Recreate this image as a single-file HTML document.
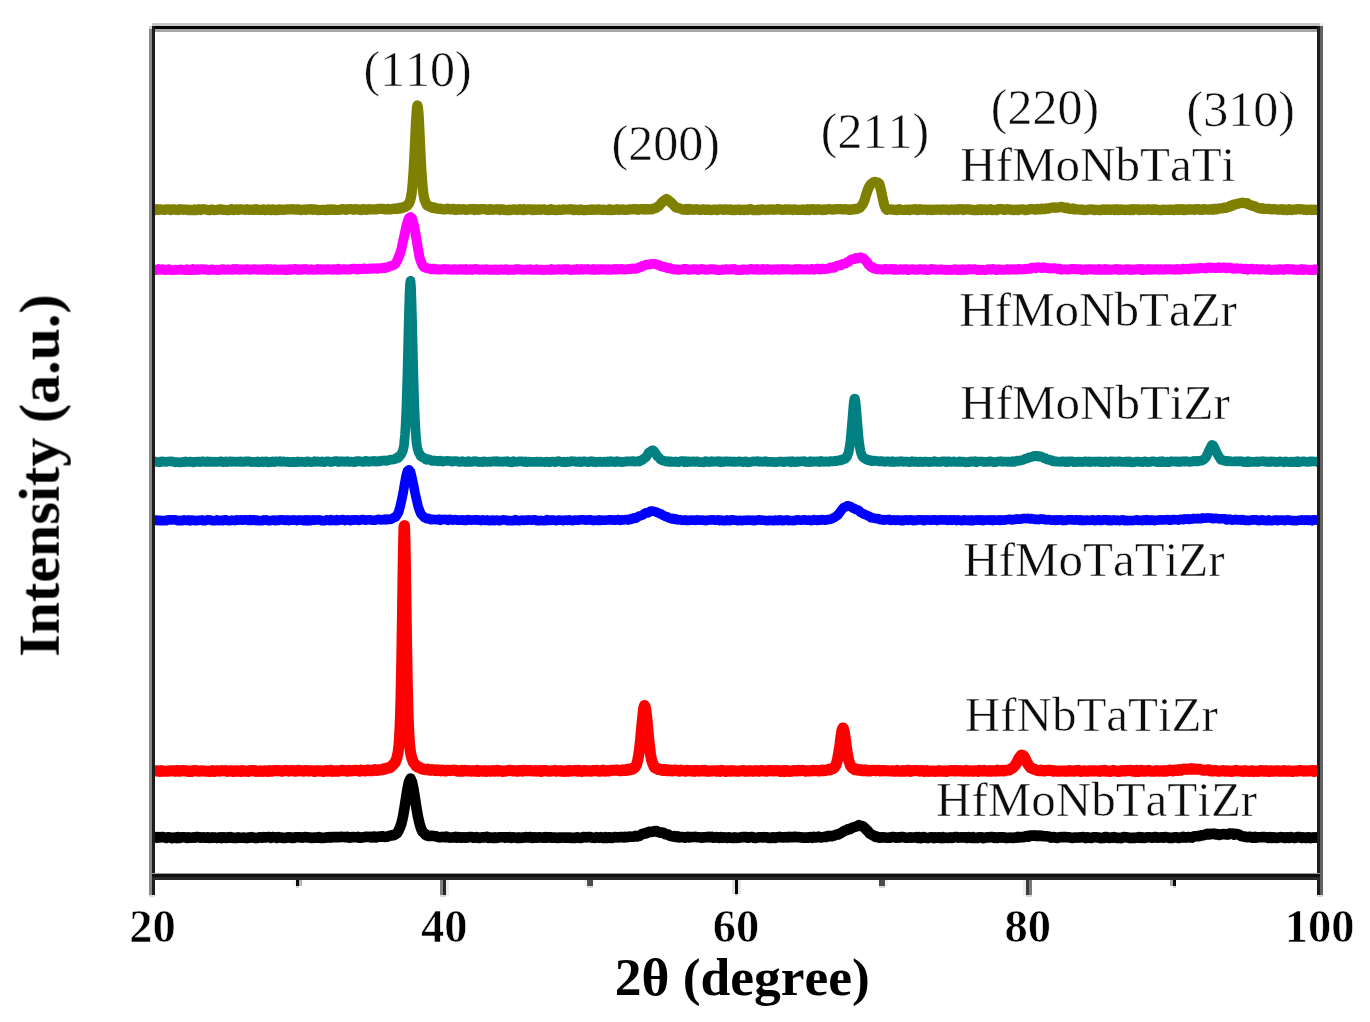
<!DOCTYPE html>
<html><head><meta charset="utf-8"><title>XRD patterns</title>
<style>html,body{margin:0;padding:0;background:#fff;}svg{display:block;}text{font-family:"Liberation Serif","Times New Roman",serif;font-kerning:none;font-variant-ligatures:none;}</style></head><body>
<svg width="1370" height="1022" viewBox="0 0 1370 1022">
<rect x="0" y="0" width="1370" height="1022" fill="#fff"/>
<defs><clipPath id="cp"><rect x="152" y="28" width="1169" height="848"/></clipPath><filter id="soft" x="-2%" y="-2%" width="104%" height="104%"><feGaussianBlur stdDeviation="0.7"/></filter><filter id="softt" x="-5%" y="-5%" width="110%" height="110%"><feGaussianBlur stdDeviation="0.6"/></filter></defs>
<g clip-path="url(#cp)"><g filter="url(#soft)">
<path d="M146.5 837.4 L148.0 837.2 L149.5 837.8 L151.0 837.1 L152.5 837.6 L154.0 837.4 L155.5 837.1 L157.0 837.6 L158.5 837.1 L160.0 837.5 L161.5 837.1 L163.0 837.1 L164.5 837.5 L166.0 837.9 L167.5 837.2 L169.0 837.3 L170.5 837.7 L172.0 838.1 L173.5 837.7 L175.0 837.5 L176.5 838.1 L178.0 837.1 L179.5 838.0 L181.0 837.4 L182.5 837.2 L184.0 837.2 L185.5 837.4 L187.0 837.9 L188.5 837.2 L190.0 837.7 L191.5 837.7 L193.0 837.4 L194.5 837.6 L196.0 837.1 L197.5 837.1 L199.0 837.3 L200.5 837.8 L202.0 837.5 L203.5 837.4 L205.0 837.7 L206.5 837.5 L208.0 837.4 L209.5 837.9 L211.0 837.8 L212.5 837.3 L214.0 837.7 L215.5 837.6 L217.0 838.0 L218.5 837.8 L220.0 837.3 L221.5 838.1 L223.0 837.2 L224.5 837.5 L226.0 837.9 L227.5 837.2 L229.0 837.6 L230.5 837.1 L232.0 837.8 L233.5 837.9 L235.0 837.7 L236.5 838.0 L238.0 837.4 L239.5 837.8 L241.0 837.7 L242.5 837.7 L244.0 837.5 L245.5 837.9 L247.0 838.1 L248.5 837.5 L250.0 837.7 L251.5 837.1 L253.0 837.8 L254.5 837.7 L256.0 838.1 L257.5 837.9 L259.0 837.3 L260.5 837.4 L262.0 837.7 L263.5 837.0 L265.0 837.5 L266.5 837.2 L268.0 837.1 L269.5 837.1 L271.0 837.9 L272.5 837.1 L274.0 837.3 L275.5 837.4 L277.0 838.0 L278.5 837.1 L280.0 837.5 L281.5 837.6 L283.0 838.0 L284.5 837.9 L286.0 837.9 L287.5 837.3 L289.0 837.5 L290.5 837.4 L292.0 838.0 L293.5 838.0 L295.0 837.2 L296.5 837.2 L298.0 837.2 L299.5 837.2 L301.0 837.5 L302.5 837.6 L304.0 837.3 L305.5 837.0 L307.0 837.4 L308.5 837.4 L310.0 837.6 L311.5 838.0 L313.0 837.7 L314.5 837.5 L316.0 837.6 L317.5 837.7 L319.0 837.0 L320.5 837.9 L322.0 837.8 L323.5 837.9 L325.0 837.8 L326.5 837.4 L328.0 837.4 L329.5 837.0 L331.0 837.6 L332.5 837.0 L334.0 837.0 L335.5 837.1 L337.0 837.1 L338.5 837.3 L340.0 837.0 L341.5 836.9 L343.0 837.0 L344.5 837.0 L346.0 837.3 L347.5 836.9 L349.0 837.8 L350.5 837.5 L352.0 837.0 L353.5 837.1 L355.0 837.2 L356.5 837.2 L358.0 836.9 L359.5 837.7 L361.0 837.8 L362.5 837.2 L364.0 837.2 L365.5 836.8 L367.0 836.8 L368.5 837.0 L370.0 836.9 L371.5 837.5 L373.0 836.7 L374.5 836.5 L376.0 837.5 L377.5 837.0 L379.0 836.5 L380.5 836.8 L382.0 836.2 L383.5 836.6 L385.0 837.0 L386.5 836.8 L388.0 836.4 L389.5 835.8 L391.0 835.6 L392.5 835.1 L394.0 835.2 L395.5 834.2 L397.0 833.3 L398.5 830.7 L400.0 827.4 L401.5 823.2 L403.0 816.6 L404.5 808.0 L406.0 798.2 L407.5 788.8 L409.0 781.5 L410.5 778.5 L412.0 782.0 L413.5 789.4 L415.0 798.7 L416.5 808.3 L418.0 816.9 L419.5 823.3 L421.0 828.4 L422.5 831.8 L424.0 833.1 L425.5 834.8 L427.0 835.6 L428.5 836.0 L430.0 835.7 L431.5 835.7 L433.0 835.9 L434.5 836.1 L436.0 836.2 L437.5 836.8 L439.0 837.2 L440.5 837.2 L442.0 836.9 L443.5 837.1 L445.0 837.3 L446.5 836.6 L448.0 837.3 L449.5 837.6 L451.0 837.5 L452.5 837.5 L454.0 837.2 L455.5 836.9 L457.0 837.6 L458.5 837.1 L460.0 837.6 L461.5 837.8 L463.0 837.2 L464.5 837.2 L466.0 837.8 L467.5 837.6 L469.0 837.0 L470.5 837.0 L472.0 837.0 L473.5 837.8 L475.0 837.7 L476.5 837.0 L478.0 837.8 L479.5 838.0 L481.0 837.6 L482.5 837.3 L484.0 837.5 L485.5 837.0 L487.0 836.9 L488.5 838.0 L490.0 837.6 L491.5 837.5 L493.0 838.0 L494.5 837.4 L496.0 837.9 L497.5 837.8 L499.0 837.2 L500.5 837.2 L502.0 837.3 L503.5 837.2 L505.0 837.6 L506.5 837.2 L508.0 837.4 L509.5 837.1 L511.0 838.0 L512.5 837.3 L514.0 837.5 L515.5 837.6 L517.0 838.0 L518.5 837.4 L520.0 838.0 L521.5 837.5 L523.0 837.6 L524.5 837.5 L526.0 837.0 L527.5 837.5 L529.0 837.2 L530.5 837.0 L532.0 837.9 L533.5 837.2 L535.0 837.5 L536.5 837.8 L538.0 837.6 L539.5 837.3 L541.0 837.5 L542.5 837.6 L544.0 837.8 L545.5 837.1 L547.0 837.6 L548.5 837.3 L550.0 837.3 L551.5 837.8 L553.0 837.5 L554.5 837.6 L556.0 837.8 L557.5 838.0 L559.0 837.5 L560.5 837.7 L562.0 837.5 L563.5 837.5 L565.0 837.7 L566.5 837.5 L568.0 837.6 L569.5 837.5 L571.0 838.0 L572.5 837.7 L574.0 837.9 L575.5 838.0 L577.0 837.3 L578.5 837.6 L580.0 838.0 L581.5 837.9 L583.0 837.1 L584.5 837.1 L586.0 837.4 L587.5 837.0 L589.0 837.2 L590.5 837.0 L592.0 837.7 L593.5 837.8 L595.0 837.9 L596.5 837.1 L598.0 837.7 L599.5 837.7 L601.0 837.1 L602.5 837.9 L604.0 838.0 L605.5 837.2 L607.0 838.0 L608.5 837.3 L610.0 837.4 L611.5 838.0 L613.0 837.8 L614.5 837.0 L616.0 837.3 L617.5 837.4 L619.0 837.2 L620.5 837.0 L622.0 837.1 L623.5 837.5 L625.0 836.7 L626.5 837.2 L628.0 837.0 L629.5 836.5 L631.0 836.7 L632.5 836.8 L634.0 836.5 L635.5 835.8 L637.0 836.5 L638.5 835.9 L640.0 835.7 L641.5 834.3 L643.0 834.0 L644.5 833.2 L646.0 833.5 L647.5 832.4 L649.0 831.8 L650.5 831.7 L652.0 831.9 L653.5 831.6 L655.0 831.0 L656.5 831.0 L658.0 832.2 L659.5 832.2 L661.0 832.8 L662.5 832.6 L664.0 833.1 L665.5 834.3 L667.0 834.5 L668.5 834.6 L670.0 836.0 L671.5 836.0 L673.0 836.5 L674.5 836.0 L676.0 837.0 L677.5 836.4 L679.0 837.4 L680.5 837.0 L682.0 837.0 L683.5 837.3 L685.0 837.7 L686.5 837.0 L688.0 836.9 L689.5 837.4 L691.0 837.1 L692.5 837.0 L694.0 837.0 L695.5 836.9 L697.0 837.1 L698.5 837.2 L700.0 837.2 L701.5 837.7 L703.0 837.2 L704.5 837.5 L706.0 837.1 L707.5 837.3 L709.0 836.9 L710.5 837.2 L712.0 836.9 L713.5 837.7 L715.0 837.5 L716.5 837.1 L718.0 837.5 L719.5 838.0 L721.0 837.1 L722.5 837.8 L724.0 837.4 L725.5 837.5 L727.0 837.9 L728.5 837.4 L730.0 837.5 L731.5 837.7 L733.0 838.0 L734.5 837.3 L736.0 837.9 L737.5 837.7 L739.0 837.7 L740.5 837.4 L742.0 837.3 L743.5 837.0 L745.0 837.1 L746.5 837.0 L748.0 837.8 L749.5 837.2 L751.0 837.1 L752.5 837.0 L754.0 837.9 L755.5 837.9 L757.0 837.7 L758.5 837.3 L760.0 837.2 L761.5 837.3 L763.0 837.5 L764.5 837.1 L766.0 837.4 L767.5 837.2 L769.0 838.0 L770.5 838.0 L772.0 837.5 L773.5 837.2 L775.0 838.0 L776.5 837.3 L778.0 837.3 L779.5 836.9 L781.0 837.3 L782.5 837.4 L784.0 837.5 L785.5 837.1 L787.0 837.5 L788.5 836.9 L790.0 837.2 L791.5 837.0 L793.0 837.3 L794.5 836.9 L796.0 836.9 L797.5 837.2 L799.0 837.1 L800.5 837.5 L802.0 837.4 L803.5 837.7 L805.0 837.5 L806.5 837.6 L808.0 837.8 L809.5 837.2 L811.0 837.1 L812.5 837.8 L814.0 836.9 L815.5 837.5 L817.0 837.3 L818.5 836.6 L820.0 837.4 L821.5 837.4 L823.0 837.0 L824.5 837.0 L826.0 837.0 L827.5 836.0 L829.0 836.3 L830.5 836.0 L832.0 836.1 L833.5 835.7 L835.0 835.3 L836.5 834.6 L838.0 834.5 L839.5 833.7 L841.0 833.1 L842.5 832.0 L844.0 831.1 L845.5 830.5 L847.0 830.0 L848.5 829.0 L850.0 829.1 L851.5 828.1 L853.0 827.5 L854.5 827.0 L856.0 826.5 L857.5 826.0 L859.0 825.2 L860.5 825.9 L862.0 826.0 L863.5 826.7 L865.0 828.2 L866.5 830.0 L868.0 831.1 L869.5 833.4 L871.0 834.2 L872.5 835.0 L874.0 835.9 L875.5 836.9 L877.0 836.6 L878.5 837.4 L880.0 837.8 L881.5 837.3 L883.0 837.2 L884.5 837.4 L886.0 837.6 L887.5 837.7 L889.0 837.6 L890.5 837.6 L892.0 837.0 L893.5 837.1 L895.0 837.2 L896.5 837.8 L898.0 837.3 L899.5 837.6 L901.0 837.0 L902.5 837.0 L904.0 837.3 L905.5 837.7 L907.0 837.7 L908.5 837.7 L910.0 837.3 L911.5 837.6 L913.0 837.5 L914.5 837.5 L916.0 837.1 L917.5 838.0 L919.0 837.2 L920.5 838.1 L922.0 838.0 L923.5 837.0 L925.0 837.5 L926.5 837.9 L928.0 838.1 L929.5 837.5 L931.0 837.3 L932.5 837.2 L934.0 838.1 L935.5 837.2 L937.0 837.7 L938.5 837.2 L940.0 837.6 L941.5 838.1 L943.0 837.2 L944.5 837.9 L946.0 837.6 L947.5 838.0 L949.0 837.8 L950.5 837.3 L952.0 838.0 L953.5 837.6 L955.0 837.0 L956.5 837.0 L958.0 837.6 L959.5 837.5 L961.0 837.4 L962.5 837.2 L964.0 837.4 L965.5 837.4 L967.0 837.9 L968.5 837.0 L970.0 837.8 L971.5 837.9 L973.0 837.2 L974.5 838.0 L976.0 837.8 L977.5 838.0 L979.0 837.3 L980.5 837.4 L982.0 837.4 L983.5 838.1 L985.0 837.7 L986.5 837.4 L988.0 837.5 L989.5 837.3 L991.0 837.1 L992.5 837.1 L994.0 837.9 L995.5 837.3 L997.0 838.0 L998.5 837.3 L1000.0 837.3 L1001.5 837.6 L1003.0 837.2 L1004.5 837.4 L1006.0 838.0 L1007.5 837.9 L1009.0 837.8 L1010.5 837.6 L1012.0 837.9 L1013.5 837.9 L1015.0 837.5 L1016.5 837.6 L1018.0 836.8 L1019.5 837.5 L1021.0 837.1 L1022.5 837.3 L1024.0 837.0 L1025.5 836.4 L1027.0 836.0 L1028.5 836.7 L1030.0 835.6 L1031.5 835.8 L1033.0 835.6 L1034.5 835.4 L1036.0 835.9 L1037.5 836.1 L1039.0 835.5 L1040.5 836.0 L1042.0 835.8 L1043.5 836.3 L1045.0 836.3 L1046.5 836.3 L1048.0 836.5 L1049.5 836.7 L1051.0 837.6 L1052.5 837.2 L1054.0 837.0 L1055.5 837.8 L1057.0 838.0 L1058.5 837.4 L1060.0 837.1 L1061.5 837.2 L1063.0 837.1 L1064.5 837.3 L1066.0 837.1 L1067.5 837.2 L1069.0 837.3 L1070.5 837.6 L1072.0 838.0 L1073.5 837.8 L1075.0 837.5 L1076.5 837.5 L1078.0 837.6 L1079.5 837.4 L1081.0 837.4 L1082.5 837.1 L1084.0 837.3 L1085.5 838.1 L1087.0 837.2 L1088.5 837.6 L1090.0 837.7 L1091.5 838.0 L1093.0 837.3 L1094.5 837.3 L1096.0 837.3 L1097.5 837.5 L1099.0 837.5 L1100.5 838.1 L1102.0 838.0 L1103.5 838.0 L1105.0 837.0 L1106.5 837.1 L1108.0 837.8 L1109.5 838.0 L1111.0 837.5 L1112.5 837.7 L1114.0 837.0 L1115.5 837.5 L1117.0 838.0 L1118.5 837.9 L1120.0 838.0 L1121.5 838.1 L1123.0 837.3 L1124.5 837.1 L1126.0 837.2 L1127.5 837.6 L1129.0 837.8 L1130.5 838.1 L1132.0 837.8 L1133.5 837.7 L1135.0 837.9 L1136.5 837.5 L1138.0 837.6 L1139.5 837.1 L1141.0 837.9 L1142.5 837.3 L1144.0 838.0 L1145.5 837.7 L1147.0 837.3 L1148.5 837.2 L1150.0 837.3 L1151.5 837.7 L1153.0 837.8 L1154.5 837.1 L1156.0 837.1 L1157.5 837.6 L1159.0 837.6 L1160.5 837.4 L1162.0 837.2 L1163.5 837.7 L1165.0 837.0 L1166.5 837.3 L1168.0 837.5 L1169.5 838.0 L1171.0 837.7 L1172.5 837.9 L1174.0 837.5 L1175.5 837.2 L1177.0 837.2 L1178.5 838.0 L1180.0 837.7 L1181.5 837.3 L1183.0 836.9 L1184.5 837.4 L1186.0 837.6 L1187.5 837.3 L1189.0 837.0 L1190.5 837.4 L1192.0 837.6 L1193.5 836.6 L1195.0 836.2 L1196.5 836.3 L1198.0 836.1 L1199.5 836.1 L1201.0 835.2 L1202.5 835.5 L1204.0 835.1 L1205.5 834.5 L1207.0 833.9 L1208.5 834.5 L1210.0 833.7 L1211.5 834.2 L1213.0 833.6 L1214.5 833.8 L1216.0 834.5 L1217.5 834.1 L1219.0 835.0 L1220.5 834.5 L1222.0 834.2 L1223.5 834.1 L1225.0 834.2 L1226.5 834.4 L1228.0 834.5 L1229.5 833.5 L1231.0 833.7 L1232.5 833.6 L1234.0 834.6 L1235.5 833.9 L1237.0 834.1 L1238.5 834.4 L1240.0 835.2 L1241.5 836.1 L1243.0 836.4 L1244.5 836.6 L1246.0 837.1 L1247.5 837.3 L1249.0 836.8 L1250.5 836.8 L1252.0 837.7 L1253.5 837.6 L1255.0 836.9 L1256.5 837.6 L1258.0 837.3 L1259.5 837.3 L1261.0 837.3 L1262.5 837.1 L1264.0 837.0 L1265.5 837.3 L1267.0 837.4 L1268.5 838.0 L1270.0 837.1 L1271.5 838.0 L1273.0 837.2 L1274.5 837.4 L1276.0 837.9 L1277.5 837.9 L1279.0 837.5 L1280.5 837.1 L1282.0 837.5 L1283.5 837.4 L1285.0 838.0 L1286.5 837.2 L1288.0 837.4 L1289.5 838.0 L1291.0 837.1 L1292.5 837.5 L1294.0 837.9 L1295.5 837.9 L1297.0 837.1 L1298.5 837.1 L1300.0 837.1 L1301.5 838.0 L1303.0 837.3 L1304.5 837.8 L1306.0 838.0 L1307.5 837.4 L1309.0 837.3 L1310.5 838.1 L1312.0 837.7 L1313.5 837.3 L1315.0 837.8 L1316.5 837.4 L1318.0 837.3 L1319.5 837.0 L1321.0 837.9 L1322.5 838.0 L1324.0 837.7 L1325.5 838.1" fill="none" stroke="#000000" stroke-width="10.6" stroke-linejoin="round" stroke-linecap="butt"/>
<path d="M146.5 770.5 L148.0 770.7 L149.5 771.0 L151.0 771.5 L152.5 771.5 L154.0 770.9 L155.5 770.7 L157.0 770.9 L158.5 771.0 L160.0 771.5 L161.5 770.6 L163.0 771.3 L164.5 771.2 L166.0 771.3 L167.5 771.3 L169.0 771.1 L170.5 770.8 L172.0 770.8 L173.5 770.8 L175.0 771.3 L176.5 770.5 L178.0 770.6 L179.5 771.3 L181.0 770.7 L182.5 770.5 L184.0 770.5 L185.5 771.0 L187.0 770.8 L188.5 771.5 L190.0 771.4 L191.5 771.5 L193.0 770.7 L194.5 770.5 L196.0 770.5 L197.5 771.0 L199.0 771.2 L200.5 770.9 L202.0 770.7 L203.5 770.9 L205.0 771.1 L206.5 771.2 L208.0 771.2 L209.5 771.4 L211.0 771.2 L212.5 770.6 L214.0 771.4 L215.5 770.7 L217.0 771.0 L218.5 770.8 L220.0 771.2 L221.5 770.6 L223.0 770.7 L224.5 770.7 L226.0 770.6 L227.5 771.4 L229.0 771.1 L230.5 770.8 L232.0 770.9 L233.5 771.5 L235.0 771.0 L236.5 770.7 L238.0 771.3 L239.5 771.1 L241.0 771.5 L242.5 770.5 L244.0 770.9 L245.5 771.3 L247.0 771.3 L248.5 771.4 L250.0 770.5 L251.5 770.7 L253.0 770.5 L254.5 770.6 L256.0 771.5 L257.5 771.1 L259.0 771.4 L260.5 770.8 L262.0 771.4 L263.5 770.9 L265.0 770.7 L266.5 771.3 L268.0 771.4 L269.5 770.5 L271.0 771.1 L272.5 771.1 L274.0 770.6 L275.5 770.8 L277.0 770.6 L278.5 770.6 L280.0 770.7 L281.5 771.1 L283.0 771.1 L284.5 770.6 L286.0 770.4 L287.5 770.7 L289.0 771.1 L290.5 770.6 L292.0 770.7 L293.5 770.6 L295.0 771.3 L296.5 771.0 L298.0 770.4 L299.5 770.5 L301.0 770.8 L302.5 771.0 L304.0 771.1 L305.5 770.5 L307.0 770.5 L308.5 771.1 L310.0 770.8 L311.5 770.7 L313.0 770.7 L314.5 771.4 L316.0 770.7 L317.5 771.0 L319.0 770.7 L320.5 770.8 L322.0 771.3 L323.5 771.4 L325.0 770.7 L326.5 770.5 L328.0 771.1 L329.5 770.5 L331.0 770.3 L332.5 771.3 L334.0 770.8 L335.5 771.2 L337.0 770.7 L338.5 771.2 L340.0 770.8 L341.5 770.4 L343.0 770.3 L344.5 770.8 L346.0 770.9 L347.5 771.2 L349.0 770.3 L350.5 770.9 L352.0 770.6 L353.5 770.7 L355.0 770.3 L356.5 770.4 L358.0 770.7 L359.5 771.1 L361.0 770.1 L362.5 770.5 L364.0 770.8 L365.5 771.0 L367.0 770.1 L368.5 770.0 L370.0 770.8 L371.5 770.8 L373.0 770.2 L374.5 769.6 L376.0 770.5 L377.5 769.8 L379.0 770.2 L380.5 769.8 L382.0 769.8 L383.5 768.8 L385.0 769.2 L386.5 768.3 L388.0 768.0 L389.5 767.9 L391.0 767.0 L391.5 766.0 L392.0 765.7 L392.5 765.5 L393.0 765.1 L393.5 764.4 L394.0 763.5 L394.5 763.0 L395.0 762.7 L395.5 761.9 L396.0 759.9 L396.5 759.2 L397.0 757.8 L397.5 755.0 L398.0 753.4 L398.5 749.2 L399.0 745.1 L399.5 738.5 L400.0 729.4 L400.5 716.1 L401.0 698.7 L401.5 675.9 L402.0 647.3 L402.5 614.5 L403.0 579.3 L403.5 547.7 L404.0 526.9 L404.5 525.6 L405.0 542.5 L405.5 572.2 L406.0 607.7 L406.5 641.4 L407.0 670.5 L407.5 694.3 L408.0 713.2 L408.5 726.5 L409.0 736.5 L409.5 743.8 L410.0 748.4 L410.5 752.3 L411.0 755.1 L411.5 756.6 L412.0 758.9 L412.5 759.7 L413.0 761.6 L413.5 762.6 L414.0 763.1 L414.5 763.3 L415.0 764.4 L415.5 764.9 L416.0 766.0 L416.5 765.5 L417.0 766.7 L417.5 767.2 L418.0 767.2 L418.5 767.5 L420.0 767.5 L421.5 768.9 L423.0 768.8 L424.5 769.6 L426.0 769.8 L427.5 769.2 L429.0 770.0 L430.5 770.3 L432.0 769.5 L433.5 769.9 L435.0 770.4 L436.5 769.9 L438.0 770.7 L439.5 770.1 L441.0 770.8 L442.5 770.1 L444.0 770.5 L445.5 771.0 L447.0 770.2 L448.5 770.3 L450.0 770.6 L451.5 770.4 L453.0 770.1 L454.5 770.3 L456.0 770.3 L457.5 771.2 L459.0 770.9 L460.5 771.2 L462.0 770.4 L463.5 771.1 L465.0 770.3 L466.5 770.8 L468.0 770.9 L469.5 770.6 L471.0 771.2 L472.5 770.9 L474.0 770.9 L475.5 771.3 L477.0 770.4 L478.5 771.4 L480.0 771.0 L481.5 770.7 L483.0 771.2 L484.5 770.6 L486.0 771.4 L487.5 771.0 L489.0 770.7 L490.5 771.2 L492.0 770.8 L493.5 770.5 L495.0 771.2 L496.5 770.4 L498.0 771.2 L499.5 770.6 L501.0 771.0 L502.5 771.4 L504.0 771.0 L505.5 771.1 L507.0 770.7 L508.5 770.4 L510.0 770.4 L511.5 770.5 L513.0 771.0 L514.5 770.8 L516.0 770.9 L517.5 771.3 L519.0 770.5 L520.5 770.6 L522.0 771.1 L523.5 770.4 L525.0 770.4 L526.5 770.8 L528.0 770.5 L529.5 770.8 L531.0 770.6 L532.5 771.0 L534.0 771.0 L535.5 770.6 L537.0 771.1 L538.5 770.9 L540.0 770.5 L541.5 771.4 L543.0 770.6 L544.5 770.5 L546.0 770.5 L547.5 771.1 L549.0 771.3 L550.5 771.2 L552.0 770.8 L553.5 770.7 L555.0 770.4 L556.5 771.1 L558.0 771.0 L559.5 770.7 L561.0 771.1 L562.5 770.8 L564.0 771.4 L565.5 771.2 L567.0 770.6 L568.5 771.3 L570.0 770.4 L571.5 770.9 L573.0 770.8 L574.5 770.6 L576.0 770.4 L577.5 771.2 L579.0 770.3 L580.5 770.9 L582.0 771.4 L583.5 770.5 L585.0 770.5 L586.5 771.0 L588.0 770.9 L589.5 771.0 L591.0 771.2 L592.5 770.5 L594.0 770.6 L595.5 770.6 L597.0 770.3 L598.5 771.2 L600.0 771.1 L601.5 771.0 L603.0 770.2 L604.5 771.1 L606.0 771.0 L607.5 770.7 L609.0 771.0 L610.5 770.6 L612.0 770.3 L613.5 770.2 L615.0 770.3 L616.5 770.0 L618.0 770.3 L619.5 770.7 L621.0 770.6 L621.5 770.7 L622.0 770.5 L622.5 770.0 L623.0 770.3 L623.5 770.1 L624.0 770.5 L624.5 770.1 L625.0 769.8 L625.5 770.2 L626.0 770.5 L626.5 769.6 L627.0 770.3 L627.5 769.3 L628.0 769.5 L628.5 769.4 L629.0 769.9 L629.5 770.0 L630.0 769.7 L630.5 769.1 L631.0 769.6 L631.5 768.9 L632.0 768.6 L632.5 769.2 L633.0 768.6 L633.5 768.4 L634.0 768.1 L634.5 768.0 L635.0 766.9 L635.5 766.7 L636.0 765.6 L636.5 764.7 L637.0 762.8 L637.5 761.4 L638.0 759.0 L638.5 756.1 L639.0 752.8 L639.5 749.6 L640.0 744.7 L640.5 740.9 L641.0 735.0 L641.5 729.5 L642.0 724.1 L642.5 719.7 L643.0 714.3 L643.5 710.0 L644.0 707.0 L644.5 705.6 L645.0 706.5 L645.5 708.2 L646.0 711.4 L646.5 715.6 L647.0 719.8 L647.5 725.7 L648.0 730.9 L648.5 736.8 L649.0 741.8 L649.5 746.5 L650.0 749.7 L650.5 754.2 L651.0 757.3 L651.5 759.9 L652.0 761.1 L652.5 762.9 L653.0 764.1 L653.5 765.1 L654.0 766.8 L654.5 767.4 L655.0 767.7 L655.5 768.3 L656.0 768.4 L656.5 768.3 L657.0 768.3 L657.5 768.5 L658.0 769.4 L658.5 768.9 L659.0 769.1 L659.5 769.3 L660.0 769.0 L660.5 769.3 L661.0 769.4 L661.5 770.0 L662.0 769.7 L662.5 769.7 L663.0 770.5 L663.5 770.0 L664.0 770.4 L664.5 770.2 L665.0 769.6 L665.5 770.1 L666.0 770.1 L666.5 770.5 L667.0 770.1 L667.5 770.5 L668.0 770.4 L668.5 770.0 L669.0 770.8 L670.5 770.0 L672.0 770.9 L673.5 770.2 L675.0 770.0 L676.5 770.3 L678.0 770.9 L679.5 771.2 L681.0 770.2 L682.5 770.7 L684.0 770.7 L685.5 771.1 L687.0 770.4 L688.5 770.8 L690.0 770.6 L691.5 771.2 L693.0 770.6 L694.5 771.3 L696.0 770.6 L697.5 770.5 L699.0 771.1 L700.5 770.9 L702.0 770.4 L703.5 771.0 L705.0 770.4 L706.5 771.2 L708.0 771.1 L709.5 771.2 L711.0 771.0 L712.5 770.7 L714.0 770.8 L715.5 770.8 L717.0 771.3 L718.5 770.5 L720.0 771.3 L721.5 770.4 L723.0 770.6 L724.5 770.7 L726.0 771.4 L727.5 770.9 L729.0 770.8 L730.5 771.3 L732.0 770.6 L733.5 770.9 L735.0 771.0 L736.5 771.2 L738.0 771.2 L739.5 771.1 L741.0 770.8 L742.5 770.7 L744.0 770.5 L745.5 771.3 L747.0 771.1 L748.5 771.2 L750.0 770.6 L751.5 770.9 L753.0 771.2 L754.5 771.0 L756.0 770.5 L757.5 770.9 L759.0 771.3 L760.5 770.6 L762.0 770.6 L763.5 770.7 L765.0 771.1 L766.5 771.3 L768.0 770.5 L769.5 770.5 L771.0 770.6 L772.5 770.7 L774.0 770.9 L775.5 770.5 L777.0 770.7 L778.5 770.6 L780.0 771.4 L781.5 771.2 L783.0 770.5 L784.5 771.4 L786.0 770.5 L787.5 770.8 L789.0 771.4 L790.5 771.2 L792.0 771.1 L793.5 770.8 L795.0 770.5 L796.5 771.0 L798.0 770.4 L799.5 770.5 L801.0 770.7 L802.5 770.3 L804.0 770.7 L805.5 771.1 L807.0 771.0 L808.5 770.8 L810.0 770.9 L811.5 770.7 L813.0 770.3 L814.5 770.8 L816.0 770.5 L817.5 770.8 L819.0 771.0 L820.5 770.4 L822.0 770.5 L822.5 770.6 L823.0 770.2 L823.5 770.0 L824.0 770.5 L824.5 770.6 L825.0 770.5 L825.5 770.3 L826.0 770.5 L826.5 770.2 L827.0 770.1 L827.5 769.9 L828.0 769.6 L828.5 769.9 L829.0 769.2 L829.5 769.5 L830.0 769.8 L830.5 769.6 L831.0 769.4 L831.5 768.8 L832.0 768.8 L832.5 768.6 L833.0 768.6 L833.5 768.0 L834.0 767.9 L834.5 767.6 L835.0 766.1 L835.5 765.8 L836.0 764.9 L836.5 763.1 L837.0 761.5 L837.5 760.0 L838.0 756.6 L838.5 754.4 L839.0 750.8 L839.5 748.0 L840.0 744.5 L840.5 740.2 L841.0 736.1 L841.5 733.2 L842.0 730.4 L842.5 728.8 L843.0 728.0 L843.5 728.8 L844.0 730.8 L844.5 733.2 L845.0 736.4 L845.5 740.7 L846.0 743.7 L846.5 747.9 L847.0 751.1 L847.5 754.6 L848.0 756.7 L848.5 760.0 L849.0 761.4 L849.5 762.7 L850.0 764.3 L850.5 765.5 L851.0 766.0 L851.5 767.1 L852.0 767.6 L852.5 768.3 L853.0 768.3 L853.5 768.4 L854.0 768.6 L854.5 769.4 L855.0 769.7 L855.5 769.4 L856.0 769.2 L856.5 769.9 L857.0 769.6 L857.5 769.4 L858.0 769.4 L858.5 770.2 L859.0 770.3 L859.5 770.2 L860.0 770.0 L860.5 770.2 L861.0 769.9 L861.5 770.7 L862.0 770.1 L862.5 770.4 L863.0 770.7 L863.5 770.7 L864.0 770.3 L864.5 770.2 L865.0 770.5 L865.5 770.0 L867.0 770.9 L868.5 770.4 L870.0 771.0 L871.5 770.4 L873.0 770.5 L874.5 770.4 L876.0 770.7 L877.5 770.4 L879.0 770.2 L880.5 771.0 L882.0 770.6 L883.5 770.5 L885.0 770.6 L886.5 770.8 L888.0 770.8 L889.5 771.0 L891.0 771.0 L892.5 770.7 L894.0 771.3 L895.5 771.3 L897.0 770.4 L898.5 771.3 L900.0 771.3 L901.5 771.2 L903.0 770.5 L904.5 771.3 L906.0 771.1 L907.5 770.4 L909.0 770.4 L910.5 771.4 L912.0 771.1 L913.5 770.6 L915.0 770.5 L916.5 770.5 L918.0 770.6 L919.5 771.2 L921.0 770.8 L922.5 770.5 L924.0 771.4 L925.5 771.3 L927.0 770.6 L928.5 771.4 L930.0 771.1 L931.5 771.2 L933.0 771.1 L934.5 771.4 L936.0 771.3 L937.5 771.3 L939.0 770.6 L940.5 771.1 L942.0 771.0 L943.5 771.2 L945.0 770.9 L946.5 771.4 L948.0 771.0 L949.5 770.7 L951.0 770.6 L952.5 770.5 L954.0 770.9 L955.5 770.4 L957.0 770.9 L958.5 770.5 L960.0 770.9 L961.5 770.9 L963.0 771.0 L964.5 771.3 L966.0 770.4 L967.5 771.3 L969.0 770.9 L970.5 771.0 L972.0 771.1 L973.5 771.3 L975.0 770.8 L976.5 770.8 L978.0 771.4 L979.5 770.4 L981.0 771.0 L982.5 771.0 L984.0 770.3 L985.5 771.0 L987.0 771.0 L988.5 771.3 L990.0 770.6 L991.5 771.3 L993.0 770.8 L994.5 770.7 L996.0 771.1 L997.5 770.2 L999.0 770.9 L1000.5 770.7 L1002.0 770.4 L1003.5 770.9 L1005.0 770.2 L1006.5 770.2 L1008.0 770.0 L1009.5 770.0 L1011.0 768.8 L1012.5 768.1 L1014.0 766.6 L1015.5 764.7 L1017.0 762.4 L1018.5 758.9 L1020.0 756.9 L1021.5 755.0 L1023.0 755.4 L1024.5 757.1 L1026.0 760.2 L1027.5 763.5 L1029.0 765.6 L1030.5 767.6 L1032.0 768.3 L1033.5 769.1 L1035.0 769.6 L1036.5 770.2 L1038.0 770.4 L1039.5 770.7 L1041.0 770.0 L1042.5 770.8 L1044.0 771.0 L1045.5 770.7 L1047.0 770.2 L1048.5 770.5 L1050.0 770.2 L1051.5 770.4 L1053.0 771.3 L1054.5 770.9 L1056.0 771.0 L1057.5 771.2 L1059.0 771.3 L1060.5 771.0 L1062.0 771.0 L1063.5 771.0 L1065.0 771.1 L1066.5 771.0 L1068.0 771.1 L1069.5 770.6 L1071.0 771.1 L1072.5 770.9 L1074.0 771.2 L1075.5 770.5 L1077.0 770.6 L1078.5 770.4 L1080.0 771.2 L1081.5 771.4 L1083.0 771.1 L1084.5 770.8 L1086.0 771.3 L1087.5 771.3 L1089.0 771.0 L1090.5 770.7 L1092.0 770.7 L1093.5 770.9 L1095.0 770.7 L1096.5 770.9 L1098.0 771.1 L1099.5 771.4 L1101.0 770.5 L1102.5 771.0 L1104.0 770.4 L1105.5 770.5 L1107.0 771.3 L1108.5 771.0 L1110.0 771.4 L1111.5 770.9 L1113.0 770.4 L1114.5 770.8 L1116.0 771.1 L1117.5 771.4 L1119.0 771.5 L1120.5 770.9 L1122.0 770.9 L1123.5 770.5 L1125.0 771.1 L1126.5 770.6 L1128.0 770.6 L1129.5 770.4 L1131.0 770.4 L1132.5 771.2 L1134.0 770.5 L1135.5 771.5 L1137.0 770.5 L1138.5 771.4 L1140.0 770.5 L1141.5 770.4 L1143.0 771.2 L1144.5 770.7 L1146.0 771.2 L1147.5 770.6 L1149.0 770.4 L1150.5 771.2 L1152.0 771.2 L1153.5 771.3 L1155.0 771.2 L1156.5 770.5 L1158.0 771.0 L1159.5 771.1 L1161.0 770.8 L1162.5 771.3 L1164.0 770.6 L1165.5 771.3 L1167.0 771.0 L1168.5 770.2 L1170.0 770.1 L1171.5 770.8 L1173.0 770.9 L1174.5 770.0 L1176.0 770.1 L1177.5 770.5 L1179.0 769.7 L1180.5 770.3 L1182.0 769.8 L1183.5 769.1 L1185.0 769.3 L1186.5 769.4 L1188.0 769.1 L1189.5 769.3 L1191.0 768.6 L1192.5 769.3 L1194.0 768.8 L1195.5 769.2 L1197.0 769.3 L1198.5 769.2 L1200.0 769.3 L1201.5 769.8 L1203.0 770.2 L1204.5 770.2 L1206.0 770.1 L1207.5 769.9 L1209.0 769.8 L1210.5 770.9 L1212.0 770.7 L1213.5 770.9 L1215.0 770.5 L1216.5 770.8 L1218.0 771.3 L1219.5 771.2 L1221.0 770.9 L1222.5 770.6 L1224.0 770.8 L1225.5 771.3 L1227.0 770.8 L1228.5 771.1 L1230.0 771.0 L1231.5 771.4 L1233.0 771.3 L1234.5 770.7 L1236.0 770.4 L1237.5 770.7 L1239.0 770.9 L1240.5 771.0 L1242.0 771.3 L1243.5 771.4 L1245.0 770.5 L1246.5 771.3 L1248.0 771.3 L1249.5 771.4 L1251.0 771.0 L1252.5 770.7 L1254.0 771.4 L1255.5 771.3 L1257.0 771.2 L1258.5 771.4 L1260.0 770.8 L1261.5 770.5 L1263.0 771.0 L1264.5 771.3 L1266.0 770.6 L1267.5 771.3 L1269.0 771.5 L1270.5 770.7 L1272.0 771.1 L1273.5 771.2 L1275.0 770.9 L1276.5 770.7 L1278.0 770.7 L1279.5 771.3 L1281.0 771.3 L1282.5 770.9 L1284.0 770.5 L1285.5 771.3 L1287.0 771.3 L1288.5 770.7 L1290.0 771.1 L1291.5 771.4 L1293.0 771.4 L1294.5 771.0 L1296.0 771.0 L1297.5 771.1 L1299.0 770.6 L1300.5 770.6 L1302.0 770.6 L1303.5 771.2 L1305.0 770.8 L1306.5 771.1 L1308.0 770.9 L1309.5 771.0 L1311.0 770.6 L1312.5 770.5 L1314.0 771.5 L1315.5 770.8 L1317.0 770.6 L1318.5 771.1 L1320.0 771.3 L1321.5 770.6 L1323.0 771.1 L1324.5 770.8" fill="none" stroke="#ff0000" stroke-width="11.1" stroke-linejoin="round" stroke-linecap="butt"/>
<path d="M146.5 520.3 L148.0 519.8 L149.5 519.8 L151.0 520.8 L152.5 520.7 L154.0 520.3 L155.5 520.4 L157.0 520.0 L158.5 520.6 L160.0 520.2 L161.5 520.8 L163.0 520.6 L164.5 520.6 L166.0 520.8 L167.5 520.0 L169.0 519.8 L170.5 520.0 L172.0 519.9 L173.5 519.8 L175.0 519.8 L176.5 520.4 L178.0 520.7 L179.5 520.2 L181.0 520.8 L182.5 520.7 L184.0 519.8 L185.5 520.4 L187.0 520.2 L188.5 519.9 L190.0 520.8 L191.5 520.0 L193.0 520.4 L194.5 520.4 L196.0 520.8 L197.5 520.5 L199.0 520.2 L200.5 520.2 L202.0 519.9 L203.5 520.8 L205.0 520.8 L206.5 520.0 L208.0 519.8 L209.5 520.0 L211.0 520.1 L212.5 520.7 L214.0 520.7 L215.5 520.7 L217.0 519.8 L218.5 520.6 L220.0 520.5 L221.5 520.4 L223.0 520.8 L224.5 519.8 L226.0 519.9 L227.5 520.6 L229.0 520.8 L230.5 520.5 L232.0 520.1 L233.5 520.4 L235.0 520.6 L236.5 519.8 L238.0 520.1 L239.5 520.0 L241.0 519.9 L242.5 520.3 L244.0 519.9 L245.5 520.0 L247.0 519.9 L248.5 520.5 L250.0 519.7 L251.5 520.5 L253.0 519.9 L254.5 519.8 L256.0 520.7 L257.5 520.0 L259.0 520.8 L260.5 520.7 L262.0 520.7 L263.5 519.9 L265.0 520.2 L266.5 519.8 L268.0 520.7 L269.5 520.7 L271.0 520.4 L272.5 520.2 L274.0 520.1 L275.5 520.6 L277.0 520.2 L278.5 520.4 L280.0 519.9 L281.5 520.0 L283.0 519.8 L284.5 520.5 L286.0 520.3 L287.5 519.9 L289.0 520.7 L290.5 520.0 L292.0 520.2 L293.5 519.9 L295.0 520.0 L296.5 520.6 L298.0 520.1 L299.5 519.9 L301.0 520.2 L302.5 520.1 L304.0 520.7 L305.5 519.8 L307.0 520.8 L308.5 519.8 L310.0 520.7 L311.5 520.4 L313.0 519.9 L314.5 520.2 L316.0 520.0 L317.5 520.0 L319.0 519.9 L320.5 520.1 L322.0 520.8 L323.5 520.8 L325.0 520.7 L326.5 519.8 L328.0 520.0 L329.5 520.7 L331.0 519.7 L332.5 520.5 L334.0 520.0 L335.5 520.7 L337.0 519.7 L338.5 520.5 L340.0 520.0 L341.5 519.8 L343.0 519.6 L344.5 520.6 L346.0 520.2 L347.5 519.8 L349.0 520.1 L350.5 520.6 L352.0 519.8 L353.5 520.2 L355.0 519.7 L356.5 519.8 L358.0 520.4 L359.5 520.3 L361.0 519.8 L362.5 519.6 L364.0 519.6 L365.5 520.2 L367.0 520.0 L368.5 519.8 L370.0 519.7 L371.5 520.1 L373.0 520.2 L374.5 520.3 L376.0 520.0 L377.5 519.5 L379.0 519.3 L380.5 520.0 L382.0 519.6 L383.5 519.9 L385.0 519.0 L386.5 519.8 L388.0 519.1 L389.5 519.5 L391.0 519.3 L392.5 518.5 L394.0 517.4 L395.5 517.2 L397.0 514.9 L398.5 512.3 L400.0 507.1 L401.5 500.7 L403.0 493.6 L404.5 484.5 L406.0 476.3 L407.5 470.9 L409.0 469.7 L410.5 471.6 L412.0 477.8 L413.5 485.0 L415.0 492.7 L416.5 499.3 L418.0 505.9 L419.5 510.6 L421.0 513.9 L422.5 515.5 L424.0 517.4 L425.5 517.9 L427.0 518.8 L428.5 518.4 L430.0 519.5 L431.5 519.8 L433.0 519.4 L434.5 519.5 L436.0 519.6 L437.5 519.7 L439.0 519.2 L440.5 520.3 L442.0 519.5 L443.5 519.5 L445.0 519.4 L446.5 519.6 L448.0 520.3 L449.5 519.4 L451.0 519.5 L452.5 520.2 L454.0 519.7 L455.5 519.5 L457.0 520.2 L458.5 520.1 L460.0 520.1 L461.5 520.3 L463.0 519.7 L464.5 520.5 L466.0 520.4 L467.5 519.6 L469.0 519.7 L470.5 520.1 L472.0 520.1 L473.5 519.9 L475.0 519.7 L476.5 520.1 L478.0 519.8 L479.5 520.3 L481.0 520.6 L482.5 519.8 L484.0 520.3 L485.5 520.5 L487.0 519.8 L488.5 520.6 L490.0 520.7 L491.5 520.1 L493.0 520.1 L494.5 520.6 L496.0 520.2 L497.5 520.1 L499.0 520.7 L500.5 520.5 L502.0 520.0 L503.5 519.9 L505.0 520.0 L506.5 520.2 L508.0 520.8 L509.5 520.6 L511.0 520.7 L512.5 520.6 L514.0 520.6 L515.5 519.7 L517.0 520.3 L518.5 520.7 L520.0 520.7 L521.5 520.0 L523.0 520.2 L524.5 520.4 L526.0 520.1 L527.5 520.3 L529.0 519.8 L530.5 520.2 L532.0 520.2 L533.5 519.7 L535.0 519.8 L536.5 520.8 L538.0 520.5 L539.5 520.7 L541.0 520.4 L542.5 520.6 L544.0 520.7 L545.5 520.7 L547.0 519.7 L548.5 520.4 L550.0 520.0 L551.5 520.4 L553.0 520.0 L554.5 520.3 L556.0 520.7 L557.5 520.4 L559.0 520.0 L560.5 520.3 L562.0 520.2 L563.5 520.7 L565.0 520.0 L566.5 520.0 L568.0 520.4 L569.5 519.8 L571.0 520.3 L572.5 520.7 L574.0 520.2 L575.5 520.0 L577.0 520.2 L578.5 520.3 L580.0 519.8 L581.5 519.8 L583.0 519.8 L584.5 520.0 L586.0 520.1 L587.5 520.0 L589.0 519.9 L590.5 519.8 L592.0 520.3 L593.5 520.6 L595.0 520.3 L596.5 520.3 L598.0 520.4 L599.5 519.9 L601.0 520.4 L602.5 520.1 L604.0 520.2 L605.5 520.3 L607.0 520.1 L608.5 519.9 L610.0 519.9 L611.5 519.8 L613.0 520.1 L614.5 520.0 L616.0 520.2 L617.5 519.5 L619.0 519.9 L620.5 520.4 L622.0 519.7 L623.5 520.0 L625.0 519.8 L626.5 519.5 L628.0 520.1 L629.5 519.1 L631.0 519.4 L632.5 518.4 L634.0 517.9 L635.5 518.4 L637.0 517.4 L638.5 516.3 L640.0 516.0 L641.5 515.3 L643.0 514.9 L644.5 513.4 L646.0 512.8 L647.5 513.0 L649.0 512.2 L650.5 511.1 L652.0 511.1 L653.5 511.2 L655.0 511.7 L656.5 512.1 L658.0 512.9 L659.5 513.5 L661.0 513.9 L662.5 514.9 L664.0 515.7 L665.5 516.5 L667.0 516.8 L668.5 517.8 L670.0 518.2 L671.5 518.9 L673.0 518.4 L674.5 519.5 L676.0 518.8 L677.5 519.9 L679.0 519.8 L680.5 519.8 L682.0 520.4 L683.5 520.1 L685.0 519.9 L686.5 520.4 L688.0 520.5 L689.5 520.2 L691.0 520.0 L692.5 520.1 L694.0 520.1 L695.5 520.4 L697.0 519.9 L698.5 520.0 L700.0 520.2 L701.5 520.1 L703.0 520.0 L704.5 520.5 L706.0 520.6 L707.5 520.2 L709.0 520.1 L710.5 519.9 L712.0 520.0 L713.5 519.8 L715.0 520.3 L716.5 520.3 L718.0 519.8 L719.5 520.7 L721.0 520.0 L722.5 520.6 L724.0 520.6 L725.5 520.7 L727.0 519.9 L728.5 520.2 L730.0 520.7 L731.5 519.7 L733.0 519.7 L734.5 520.3 L736.0 520.2 L737.5 520.7 L739.0 520.5 L740.5 520.3 L742.0 520.8 L743.5 520.3 L745.0 520.3 L746.5 520.4 L748.0 520.1 L749.5 520.1 L751.0 520.4 L752.5 520.1 L754.0 520.7 L755.5 520.4 L757.0 520.3 L758.5 519.8 L760.0 520.1 L761.5 520.1 L763.0 520.3 L764.5 520.3 L766.0 520.7 L767.5 520.8 L769.0 520.2 L770.5 520.2 L772.0 520.4 L773.5 520.8 L775.0 520.1 L776.5 520.3 L778.0 520.6 L779.5 519.9 L781.0 520.0 L782.5 520.8 L784.0 520.6 L785.5 520.2 L787.0 519.8 L788.5 520.7 L790.0 520.4 L791.5 520.6 L793.0 520.8 L794.5 520.6 L796.0 520.1 L797.5 519.8 L799.0 520.0 L800.5 520.2 L802.0 520.2 L803.5 519.8 L805.0 519.8 L806.5 520.3 L808.0 520.3 L809.5 520.0 L811.0 520.7 L812.5 520.3 L814.0 519.6 L815.5 520.0 L817.0 520.4 L818.5 519.9 L820.0 520.3 L821.5 519.5 L823.0 519.8 L824.5 520.3 L826.0 519.9 L827.5 519.9 L829.0 519.2 L830.5 519.2 L832.0 518.7 L833.5 517.7 L835.0 517.2 L836.5 515.9 L838.0 514.9 L839.5 512.8 L841.0 510.8 L842.5 508.7 L844.0 507.3 L845.5 506.9 L847.0 505.9 L848.5 505.9 L850.0 506.3 L851.5 507.2 L853.0 508.1 L854.5 508.6 L856.0 509.7 L857.5 509.7 L859.0 510.6 L860.5 512.4 L862.0 512.8 L863.5 514.1 L865.0 514.5 L866.5 515.1 L868.0 515.9 L869.5 516.3 L871.0 517.8 L872.5 517.9 L874.0 518.1 L875.5 518.5 L877.0 518.7 L878.5 518.6 L880.0 519.7 L881.5 519.5 L883.0 520.1 L884.5 519.6 L886.0 519.9 L887.5 519.6 L889.0 519.4 L890.5 520.4 L892.0 520.3 L893.5 519.8 L895.0 520.4 L896.5 520.4 L898.0 519.8 L899.5 520.2 L901.0 520.6 L902.5 520.1 L904.0 520.6 L905.5 519.8 L907.0 520.0 L908.5 520.4 L910.0 519.8 L911.5 519.9 L913.0 520.6 L914.5 520.1 L916.0 520.5 L917.5 519.9 L919.0 519.8 L920.5 520.0 L922.0 519.8 L923.5 520.7 L925.0 519.9 L926.5 520.2 L928.0 519.8 L929.5 520.2 L931.0 520.1 L932.5 520.1 L934.0 519.7 L935.5 519.8 L937.0 520.6 L938.5 520.0 L940.0 519.9 L941.5 519.9 L943.0 520.0 L944.5 519.9 L946.0 519.7 L947.5 520.4 L949.0 520.0 L950.5 519.8 L952.0 520.4 L953.5 519.8 L955.0 520.0 L956.5 520.6 L958.0 519.8 L959.5 520.2 L961.0 520.6 L962.5 520.6 L964.0 519.8 L965.5 520.1 L967.0 520.5 L968.5 520.1 L970.0 520.7 L971.5 519.9 L973.0 520.7 L974.5 520.2 L976.0 519.9 L977.5 520.2 L979.0 519.8 L980.5 520.4 L982.0 519.9 L983.5 520.6 L985.0 520.3 L986.5 520.1 L988.0 519.9 L989.5 520.3 L991.0 519.9 L992.5 520.6 L994.0 519.8 L995.5 520.2 L997.0 520.2 L998.5 519.9 L1000.0 520.4 L1001.5 519.9 L1003.0 520.2 L1004.5 520.1 L1006.0 519.7 L1007.5 519.7 L1009.0 519.3 L1010.5 519.4 L1012.0 520.0 L1013.5 519.4 L1015.0 519.6 L1016.5 518.9 L1018.0 519.3 L1019.5 519.0 L1021.0 519.1 L1022.5 518.7 L1024.0 518.4 L1025.5 518.6 L1027.0 518.5 L1028.5 518.4 L1030.0 519.0 L1031.5 518.6 L1033.0 518.7 L1034.5 519.4 L1036.0 519.3 L1037.5 519.5 L1039.0 519.6 L1040.5 518.9 L1042.0 519.1 L1043.5 519.0 L1045.0 519.8 L1046.5 519.9 L1048.0 519.6 L1049.5 519.7 L1051.0 520.1 L1052.5 520.2 L1054.0 519.7 L1055.5 520.4 L1057.0 519.9 L1058.5 520.2 L1060.0 519.8 L1061.5 519.7 L1063.0 520.6 L1064.5 520.4 L1066.0 520.4 L1067.5 519.7 L1069.0 519.7 L1070.5 519.8 L1072.0 519.9 L1073.5 520.0 L1075.0 520.1 L1076.5 519.7 L1078.0 520.0 L1079.5 520.4 L1081.0 519.9 L1082.5 520.6 L1084.0 520.3 L1085.5 520.5 L1087.0 520.0 L1088.5 520.2 L1090.0 520.4 L1091.5 520.1 L1093.0 519.7 L1094.5 520.6 L1096.0 520.5 L1097.5 520.0 L1099.0 519.7 L1100.5 520.6 L1102.0 520.4 L1103.5 519.7 L1105.0 520.0 L1106.5 519.8 L1108.0 520.6 L1109.5 519.9 L1111.0 520.7 L1112.5 520.5 L1114.0 519.8 L1115.5 520.5 L1117.0 520.1 L1118.5 520.5 L1120.0 520.6 L1121.5 520.0 L1123.0 519.8 L1124.5 520.7 L1126.0 520.2 L1127.5 520.7 L1129.0 520.5 L1130.5 520.5 L1132.0 520.6 L1133.5 520.4 L1135.0 520.2 L1136.5 519.7 L1138.0 520.4 L1139.5 520.2 L1141.0 520.2 L1142.5 520.7 L1144.0 519.8 L1145.5 520.5 L1147.0 519.7 L1148.5 520.4 L1150.0 520.5 L1151.5 519.9 L1153.0 520.2 L1154.5 520.7 L1156.0 520.3 L1157.5 520.2 L1159.0 519.9 L1160.5 519.7 L1162.0 520.0 L1163.5 520.0 L1165.0 519.8 L1166.5 519.8 L1168.0 519.6 L1169.5 520.2 L1171.0 520.1 L1172.5 519.6 L1174.0 519.6 L1175.5 519.8 L1177.0 519.7 L1178.5 520.1 L1180.0 519.4 L1181.5 519.3 L1183.0 519.8 L1184.5 518.9 L1186.0 519.3 L1187.5 518.9 L1189.0 519.4 L1190.5 519.0 L1192.0 519.1 L1193.5 518.4 L1195.0 518.8 L1196.5 518.7 L1198.0 518.4 L1199.5 518.7 L1201.0 518.7 L1202.5 517.9 L1204.0 518.1 L1205.5 518.1 L1207.0 518.0 L1208.5 517.9 L1210.0 518.1 L1211.5 518.1 L1213.0 518.7 L1214.5 518.5 L1216.0 518.3 L1217.5 518.6 L1219.0 518.9 L1220.5 518.8 L1222.0 518.7 L1223.5 518.7 L1225.0 518.8 L1226.5 519.9 L1228.0 519.7 L1229.5 519.1 L1231.0 519.9 L1232.5 520.2 L1234.0 519.8 L1235.5 519.4 L1237.0 519.9 L1238.5 519.9 L1240.0 519.6 L1241.5 520.1 L1243.0 519.5 L1244.5 520.5 L1246.0 520.3 L1247.5 520.3 L1249.0 520.6 L1250.5 520.3 L1252.0 519.9 L1253.5 519.9 L1255.0 519.8 L1256.5 519.7 L1258.0 520.5 L1259.5 520.6 L1261.0 520.0 L1262.5 519.9 L1264.0 520.4 L1265.5 520.6 L1267.0 520.7 L1268.5 519.9 L1270.0 520.6 L1271.5 520.6 L1273.0 520.5 L1274.5 520.1 L1276.0 519.9 L1277.5 520.6 L1279.0 520.1 L1280.5 520.1 L1282.0 520.3 L1283.5 520.1 L1285.0 520.6 L1286.5 520.0 L1288.0 519.8 L1289.5 520.3 L1291.0 520.4 L1292.5 520.6 L1294.0 520.5 L1295.5 520.7 L1297.0 520.8 L1298.5 520.3 L1300.0 520.3 L1301.5 519.9 L1303.0 520.0 L1304.5 520.4 L1306.0 519.8 L1307.5 520.5 L1309.0 519.9 L1310.5 520.2 L1312.0 520.8 L1313.5 519.8 L1315.0 519.8 L1316.5 520.2 L1318.0 519.9 L1319.5 520.5 L1321.0 519.7 L1322.5 520.7 L1324.0 520.7 L1325.5 520.6" fill="none" stroke="#0000ff" stroke-width="9.6" stroke-linejoin="round" stroke-linecap="butt"/>
<path d="M146.5 461.7 L148.0 461.6 L149.5 462.0 L151.0 461.8 L152.5 461.7 L154.0 461.6 L155.5 461.7 L157.0 462.0 L158.5 462.1 L160.0 462.2 L161.5 461.4 L163.0 461.6 L164.5 461.7 L166.0 461.9 L167.5 461.6 L169.0 461.5 L170.5 461.3 L172.0 461.6 L173.5 461.7 L175.0 462.3 L176.5 462.2 L178.0 462.2 L179.5 462.3 L181.0 462.3 L182.5 461.9 L184.0 462.1 L185.5 461.3 L187.0 462.0 L188.5 461.9 L190.0 461.6 L191.5 461.9 L193.0 462.3 L194.5 461.8 L196.0 461.9 L197.5 461.6 L199.0 461.6 L200.5 462.2 L202.0 461.3 L203.5 461.4 L205.0 462.0 L206.5 461.7 L208.0 461.3 L209.5 462.0 L211.0 461.6 L212.5 461.9 L214.0 461.7 L215.5 461.8 L217.0 461.9 L218.5 461.7 L220.0 461.4 L221.5 461.4 L223.0 462.2 L224.5 461.8 L226.0 461.4 L227.5 462.2 L229.0 461.5 L230.5 461.3 L232.0 461.8 L233.5 461.5 L235.0 461.8 L236.5 461.8 L238.0 461.5 L239.5 461.9 L241.0 461.3 L242.5 461.8 L244.0 461.9 L245.5 461.3 L247.0 461.7 L248.5 461.3 L250.0 461.7 L251.5 462.2 L253.0 461.8 L254.5 462.0 L256.0 462.1 L257.5 461.3 L259.0 462.3 L260.5 462.0 L262.0 461.3 L263.5 462.1 L265.0 461.6 L266.5 461.4 L268.0 462.3 L269.5 461.8 L271.0 462.1 L272.5 461.4 L274.0 462.1 L275.5 461.3 L277.0 461.5 L278.5 461.6 L280.0 461.2 L281.5 461.9 L283.0 461.4 L284.5 461.5 L286.0 462.0 L287.5 461.7 L289.0 462.2 L290.5 461.9 L292.0 462.2 L293.5 461.8 L295.0 462.2 L296.5 462.2 L298.0 461.4 L299.5 462.0 L301.0 461.6 L302.5 462.0 L304.0 461.9 L305.5 462.1 L307.0 461.3 L308.5 461.6 L310.0 462.0 L311.5 462.2 L313.0 462.0 L314.5 461.2 L316.0 461.8 L317.5 461.3 L319.0 461.8 L320.5 462.0 L322.0 461.3 L323.5 462.2 L325.0 461.9 L326.5 461.4 L328.0 461.4 L329.5 461.6 L331.0 462.1 L332.5 461.8 L334.0 461.3 L335.5 461.1 L337.0 461.2 L338.5 462.0 L340.0 461.3 L341.5 461.7 L343.0 461.4 L344.5 461.8 L346.0 461.5 L347.5 461.2 L349.0 462.0 L350.5 461.6 L352.0 461.8 L353.5 461.9 L355.0 462.1 L356.5 461.0 L358.0 461.4 L359.5 461.1 L361.0 461.5 L362.5 461.9 L364.0 461.8 L365.5 460.9 L367.0 461.1 L368.5 461.8 L370.0 461.6 L371.5 461.2 L373.0 461.3 L374.5 460.9 L376.0 461.6 L377.5 461.1 L379.0 461.5 L380.5 461.2 L382.0 460.5 L383.5 460.7 L385.0 460.4 L386.5 461.0 L388.0 460.5 L389.5 459.8 L391.0 459.7 L392.5 459.6 L394.0 459.3 L394.5 459.3 L395.0 458.9 L395.5 458.7 L396.0 458.1 L396.5 458.5 L397.0 458.0 L397.5 457.3 L398.0 457.5 L398.5 457.8 L399.0 456.3 L399.5 456.0 L400.0 456.1 L400.5 455.1 L401.0 454.4 L401.5 453.8 L402.0 452.5 L402.5 451.6 L403.0 449.9 L403.5 448.1 L404.0 445.0 L404.5 439.7 L405.0 434.6 L405.5 427.1 L406.0 417.3 L406.5 404.6 L407.0 389.1 L407.5 371.3 L408.0 351.2 L408.5 330.4 L409.0 311.1 L409.5 294.5 L410.0 283.8 L410.5 280.9 L411.0 286.5 L411.5 300.5 L412.0 318.8 L412.5 339.0 L413.0 359.6 L413.5 378.4 L414.0 395.5 L414.5 409.5 L415.0 420.7 L415.5 430.0 L416.0 436.8 L416.5 442.6 L417.0 445.8 L417.5 448.4 L418.0 450.3 L418.5 451.8 L419.0 453.1 L419.5 453.8 L420.0 454.4 L420.5 456.0 L421.0 456.1 L421.5 456.5 L422.0 457.1 L422.5 457.1 L423.0 457.3 L423.5 457.5 L424.0 458.0 L424.5 458.3 L425.0 458.9 L425.5 459.0 L426.0 459.6 L426.5 459.1 L427.0 459.8 L427.5 459.6 L428.0 459.2 L429.5 459.6 L431.0 460.3 L432.5 461.0 L434.0 460.4 L435.5 461.0 L437.0 460.8 L438.5 461.3 L440.0 460.5 L441.5 461.1 L443.0 461.6 L444.5 461.0 L446.0 461.0 L447.5 460.8 L449.0 461.0 L450.5 461.1 L452.0 461.6 L453.5 461.1 L455.0 461.3 L456.5 461.1 L458.0 461.6 L459.5 461.9 L461.0 461.7 L462.5 461.2 L464.0 461.8 L465.5 462.1 L467.0 461.7 L468.5 461.1 L470.0 461.9 L471.5 462.0 L473.0 461.4 L474.5 461.2 L476.0 461.3 L477.5 461.7 L479.0 462.1 L480.5 461.8 L482.0 462.1 L483.5 461.3 L485.0 461.5 L486.5 461.9 L488.0 461.8 L489.5 461.6 L491.0 461.9 L492.5 461.5 L494.0 461.2 L495.5 461.6 L497.0 461.2 L498.5 461.8 L500.0 461.5 L501.5 461.7 L503.0 461.8 L504.5 461.4 L506.0 461.7 L507.5 461.2 L509.0 462.2 L510.5 461.8 L512.0 462.3 L513.5 461.2 L515.0 461.9 L516.5 462.0 L518.0 461.5 L519.5 461.3 L521.0 461.4 L522.5 461.3 L524.0 462.0 L525.5 461.3 L527.0 462.1 L528.5 461.7 L530.0 461.8 L531.5 461.8 L533.0 461.8 L534.5 461.9 L536.0 461.9 L537.5 461.6 L539.0 462.0 L540.5 461.5 L542.0 462.0 L543.5 462.0 L545.0 462.1 L546.5 461.5 L548.0 462.0 L549.5 462.3 L551.0 461.7 L552.5 461.5 L554.0 461.8 L555.5 462.2 L557.0 461.3 L558.5 461.2 L560.0 461.7 L561.5 461.9 L563.0 462.1 L564.5 461.6 L566.0 462.3 L567.5 461.5 L569.0 462.0 L570.5 461.3 L572.0 461.2 L573.5 461.4 L575.0 461.3 L576.5 461.8 L578.0 461.8 L579.5 461.4 L581.0 462.2 L582.5 461.6 L584.0 461.4 L585.5 461.4 L587.0 462.0 L588.5 462.2 L590.0 461.4 L591.5 461.2 L593.0 462.1 L594.5 461.5 L596.0 462.3 L597.5 461.7 L599.0 461.9 L600.5 461.6 L602.0 462.1 L603.5 461.7 L605.0 461.5 L606.5 462.2 L608.0 461.3 L609.5 462.0 L611.0 461.2 L612.5 461.9 L614.0 461.6 L615.5 462.1 L617.0 461.2 L618.5 461.8 L620.0 461.6 L621.5 462.1 L623.0 462.1 L624.5 461.8 L626.0 461.3 L627.5 461.3 L629.0 461.3 L630.5 461.5 L632.0 461.2 L633.5 461.2 L635.0 461.7 L636.5 461.5 L638.0 461.0 L639.5 461.5 L641.0 460.3 L642.5 460.0 L644.0 458.4 L645.5 457.7 L647.0 455.8 L648.5 453.0 L650.0 451.7 L651.5 450.7 L653.0 450.3 L654.5 451.8 L656.0 453.9 L657.5 456.5 L659.0 457.5 L660.5 459.4 L662.0 460.3 L663.5 460.7 L665.0 461.2 L666.5 461.7 L668.0 461.1 L669.5 461.9 L671.0 461.4 L672.5 461.9 L674.0 462.0 L675.5 461.3 L677.0 462.0 L678.5 462.2 L680.0 461.4 L681.5 461.1 L683.0 461.2 L684.5 462.2 L686.0 461.2 L687.5 462.2 L689.0 461.3 L690.5 462.0 L692.0 461.3 L693.5 461.4 L695.0 461.9 L696.5 461.3 L698.0 461.6 L699.5 462.2 L701.0 462.0 L702.5 462.2 L704.0 462.3 L705.5 461.2 L707.0 461.4 L708.5 462.1 L710.0 462.0 L711.5 461.2 L713.0 461.8 L714.5 461.5 L716.0 461.7 L717.5 461.3 L719.0 461.2 L720.5 462.3 L722.0 461.5 L723.5 462.2 L725.0 461.3 L726.5 461.7 L728.0 461.4 L729.5 461.7 L731.0 461.4 L732.5 462.0 L734.0 461.4 L735.5 462.0 L737.0 461.8 L738.5 461.3 L740.0 461.6 L741.5 461.7 L743.0 462.2 L744.5 461.6 L746.0 461.4 L747.5 462.3 L749.0 462.2 L750.5 462.0 L752.0 461.5 L753.5 461.4 L755.0 461.5 L756.5 461.3 L758.0 461.2 L759.5 461.8 L761.0 461.6 L762.5 461.8 L764.0 461.6 L765.5 461.2 L767.0 461.9 L768.5 461.9 L770.0 461.8 L771.5 461.8 L773.0 461.9 L774.5 462.3 L776.0 462.1 L777.5 462.0 L779.0 461.6 L780.5 461.5 L782.0 461.6 L783.5 462.2 L785.0 461.6 L786.5 461.6 L788.0 461.6 L789.5 461.3 L791.0 462.3 L792.5 461.2 L794.0 461.8 L795.5 462.2 L797.0 461.4 L798.5 461.8 L800.0 461.5 L801.5 461.4 L803.0 461.3 L804.5 461.2 L806.0 462.0 L807.5 462.0 L809.0 462.1 L810.5 461.1 L812.0 461.8 L813.5 461.4 L815.0 461.7 L816.5 461.6 L818.0 461.3 L819.5 462.0 L821.0 461.0 L822.5 461.7 L824.0 461.8 L825.5 461.4 L827.0 461.5 L828.5 461.9 L830.0 461.0 L831.5 461.3 L833.0 461.4 L834.5 460.9 L836.0 461.1 L836.5 460.7 L837.0 460.8 L837.5 460.8 L838.0 460.8 L838.5 460.4 L839.0 460.6 L839.5 460.5 L840.0 460.0 L840.5 460.3 L841.0 459.9 L841.5 460.4 L842.0 459.8 L842.5 459.9 L843.0 459.6 L843.5 459.3 L844.0 458.8 L844.5 458.5 L845.0 459.0 L845.5 458.2 L846.0 457.7 L846.5 457.2 L847.0 456.7 L847.5 455.1 L848.0 453.8 L848.5 452.8 L849.0 450.3 L849.5 447.8 L850.0 444.6 L850.5 440.5 L851.0 435.6 L851.5 429.2 L852.0 423.5 L852.5 417.6 L853.0 411.3 L853.5 405.0 L854.0 400.8 L854.5 398.7 L855.0 398.8 L855.5 401.7 L856.0 406.8 L856.5 412.2 L857.0 418.5 L857.5 424.4 L858.0 430.8 L858.5 436.8 L859.0 441.2 L859.5 444.9 L860.0 448.2 L860.5 451.1 L861.0 453.1 L861.5 454.0 L862.0 455.8 L862.5 456.4 L863.0 457.3 L863.5 457.5 L864.0 458.1 L864.5 458.4 L865.0 458.8 L865.5 458.6 L866.0 459.0 L866.5 459.6 L867.0 459.2 L867.5 459.5 L868.0 460.3 L868.5 459.9 L869.0 460.1 L869.5 460.1 L870.0 460.8 L870.5 460.1 L871.0 460.7 L871.5 461.0 L872.0 460.4 L872.5 460.7 L873.0 461.1 L873.5 461.0 L874.0 460.8 L874.5 460.5 L876.0 461.0 L877.5 461.0 L879.0 461.5 L880.5 461.1 L882.0 461.2 L883.5 461.6 L885.0 461.8 L886.5 461.3 L888.0 461.4 L889.5 461.6 L891.0 462.0 L892.5 461.2 L894.0 462.1 L895.5 461.8 L897.0 461.5 L898.5 461.8 L900.0 461.4 L901.5 461.2 L903.0 461.9 L904.5 461.5 L906.0 461.7 L907.5 461.7 L909.0 462.1 L910.5 462.0 L912.0 461.2 L913.5 461.8 L915.0 461.7 L916.5 461.7 L918.0 462.1 L919.5 461.6 L921.0 461.7 L922.5 462.1 L924.0 461.7 L925.5 461.7 L927.0 461.7 L928.5 462.1 L930.0 461.9 L931.5 462.0 L933.0 461.6 L934.5 461.2 L936.0 461.9 L937.5 461.8 L939.0 462.0 L940.5 462.0 L942.0 461.3 L943.5 461.4 L945.0 461.3 L946.5 462.1 L948.0 461.3 L949.5 461.3 L951.0 462.0 L952.5 461.8 L954.0 461.3 L955.5 462.0 L957.0 462.0 L958.5 461.7 L960.0 461.3 L961.5 462.0 L963.0 461.7 L964.5 461.8 L966.0 462.3 L967.5 462.1 L969.0 462.2 L970.5 461.4 L972.0 461.6 L973.5 461.8 L975.0 461.2 L976.5 462.3 L978.0 461.5 L979.5 461.5 L981.0 461.5 L982.5 461.5 L984.0 462.1 L985.5 461.8 L987.0 461.8 L988.5 461.7 L990.0 461.3 L991.5 461.5 L993.0 462.1 L994.5 462.1 L996.0 462.1 L997.5 461.5 L999.0 461.4 L1000.5 461.2 L1002.0 461.8 L1003.5 461.6 L1005.0 461.7 L1006.5 461.7 L1008.0 461.8 L1009.5 461.5 L1011.0 462.0 L1012.5 461.2 L1014.0 462.0 L1015.5 461.4 L1017.0 460.7 L1018.5 460.8 L1020.0 460.7 L1021.5 460.2 L1023.0 460.0 L1024.5 459.2 L1026.0 458.5 L1027.5 458.5 L1029.0 457.3 L1030.5 457.2 L1032.0 456.8 L1033.5 456.1 L1035.0 455.8 L1036.5 456.3 L1038.0 455.9 L1039.5 456.7 L1041.0 456.3 L1042.5 457.3 L1044.0 458.1 L1045.5 458.1 L1047.0 459.6 L1048.5 459.3 L1050.0 460.3 L1051.5 460.2 L1053.0 461.4 L1054.5 461.2 L1056.0 461.7 L1057.5 461.5 L1059.0 461.7 L1060.5 461.8 L1062.0 461.4 L1063.5 461.4 L1065.0 462.1 L1066.5 461.3 L1068.0 462.2 L1069.5 461.4 L1071.0 461.3 L1072.5 461.3 L1074.0 462.1 L1075.5 462.2 L1077.0 461.7 L1078.5 461.9 L1080.0 461.5 L1081.5 462.2 L1083.0 462.0 L1084.5 461.4 L1086.0 461.3 L1087.5 462.0 L1089.0 461.3 L1090.5 462.1 L1092.0 461.5 L1093.5 461.5 L1095.0 461.9 L1096.5 461.6 L1098.0 461.8 L1099.5 461.4 L1101.0 462.2 L1102.5 461.6 L1104.0 462.1 L1105.5 461.4 L1107.0 462.1 L1108.5 462.3 L1110.0 461.6 L1111.5 461.3 L1113.0 461.6 L1114.5 461.9 L1116.0 461.5 L1117.5 461.8 L1119.0 461.3 L1120.5 461.7 L1122.0 462.0 L1123.5 461.7 L1125.0 462.0 L1126.5 461.3 L1128.0 462.1 L1129.5 461.4 L1131.0 462.2 L1132.5 462.3 L1134.0 462.2 L1135.5 461.8 L1137.0 461.5 L1138.5 461.6 L1140.0 462.0 L1141.5 461.8 L1143.0 462.2 L1144.5 461.3 L1146.0 461.7 L1147.5 462.2 L1149.0 461.9 L1150.5 461.8 L1152.0 461.3 L1153.5 461.4 L1155.0 461.5 L1156.5 462.2 L1158.0 462.1 L1159.5 461.4 L1161.0 462.2 L1162.5 461.2 L1164.0 461.8 L1165.5 462.2 L1167.0 461.6 L1168.5 462.2 L1170.0 461.9 L1171.5 461.2 L1173.0 461.5 L1174.5 461.6 L1176.0 461.4 L1177.5 461.9 L1179.0 461.3 L1180.5 462.0 L1182.0 461.4 L1183.5 461.2 L1185.0 461.7 L1186.5 461.2 L1188.0 461.6 L1189.5 461.9 L1191.0 461.6 L1192.5 461.4 L1194.0 460.9 L1195.5 461.4 L1197.0 460.8 L1198.5 461.3 L1200.0 460.6 L1201.5 460.7 L1203.0 459.9 L1204.5 458.9 L1206.0 457.4 L1207.5 454.0 L1209.0 450.5 L1210.5 447.7 L1212.0 444.8 L1213.5 445.8 L1215.0 448.8 L1216.5 452.1 L1218.0 455.1 L1219.5 457.5 L1221.0 459.9 L1222.5 459.9 L1224.0 460.8 L1225.5 461.1 L1227.0 460.8 L1228.5 461.3 L1230.0 461.0 L1231.5 461.5 L1233.0 461.5 L1234.5 461.4 L1236.0 461.2 L1237.5 461.5 L1239.0 461.3 L1240.5 461.2 L1242.0 461.4 L1243.5 462.1 L1245.0 461.7 L1246.5 462.1 L1248.0 461.2 L1249.5 462.2 L1251.0 461.7 L1252.5 462.0 L1254.0 461.8 L1255.5 461.9 L1257.0 461.4 L1258.5 462.0 L1260.0 461.4 L1261.5 461.5 L1263.0 461.2 L1264.5 461.6 L1266.0 461.8 L1267.5 461.5 L1269.0 462.2 L1270.5 461.3 L1272.0 461.8 L1273.5 461.5 L1275.0 461.9 L1276.5 462.1 L1278.0 462.0 L1279.5 461.3 L1281.0 461.5 L1282.5 461.9 L1284.0 462.3 L1285.5 461.3 L1287.0 461.9 L1288.5 462.0 L1290.0 462.1 L1291.5 461.6 L1293.0 462.1 L1294.5 461.7 L1296.0 462.2 L1297.5 461.2 L1299.0 462.3 L1300.5 461.7 L1302.0 461.7 L1303.5 461.3 L1305.0 461.5 L1306.5 462.0 L1308.0 462.0 L1309.5 461.4 L1311.0 461.6 L1312.5 461.4 L1314.0 461.5 L1315.5 461.5 L1317.0 461.6 L1318.5 462.3 L1320.0 462.3 L1321.5 462.1 L1323.0 461.8 L1324.5 461.8" fill="none" stroke="#008080" stroke-width="9.7" stroke-linejoin="round" stroke-linecap="butt"/>
<path d="M146.5 269.9 L148.0 270.0 L149.5 269.9 L151.0 269.7 L152.5 269.2 L154.0 269.7 L155.5 270.0 L157.0 269.9 L158.5 269.1 L160.0 269.8 L161.5 269.4 L163.0 269.2 L164.5 270.1 L166.0 269.8 L167.5 269.8 L169.0 269.2 L170.5 269.9 L172.0 270.1 L173.5 270.0 L175.0 269.8 L176.5 269.9 L178.0 269.9 L179.5 269.7 L181.0 269.5 L182.5 269.9 L184.0 269.9 L185.5 270.0 L187.0 269.3 L188.5 270.1 L190.0 269.6 L191.5 270.1 L193.0 269.1 L194.5 270.1 L196.0 269.9 L197.5 269.3 L199.0 269.9 L200.5 269.3 L202.0 269.2 L203.5 269.5 L205.0 269.3 L206.5 269.6 L208.0 270.0 L209.5 269.8 L211.0 269.8 L212.5 269.4 L214.0 269.9 L215.5 269.9 L217.0 269.8 L218.5 270.0 L220.0 269.9 L221.5 269.5 L223.0 269.1 L224.5 269.7 L226.0 269.9 L227.5 269.4 L229.0 269.7 L230.5 269.9 L232.0 269.9 L233.5 269.0 L235.0 269.5 L236.5 269.0 L238.0 269.1 L239.5 269.9 L241.0 269.5 L242.5 269.7 L244.0 269.5 L245.5 269.4 L247.0 269.2 L248.5 269.4 L250.0 269.9 L251.5 269.7 L253.0 269.3 L254.5 269.1 L256.0 269.3 L257.5 269.8 L259.0 269.5 L260.5 269.7 L262.0 269.9 L263.5 269.1 L265.0 269.7 L266.5 269.0 L268.0 269.9 L269.5 269.2 L271.0 269.3 L272.5 270.0 L274.0 269.4 L275.5 269.2 L277.0 269.9 L278.5 269.6 L280.0 269.9 L281.5 269.4 L283.0 269.5 L284.5 270.0 L286.0 269.5 L287.5 270.0 L289.0 269.2 L290.5 269.9 L292.0 269.1 L293.5 269.5 L295.0 268.9 L296.5 269.1 L298.0 270.0 L299.5 269.4 L301.0 269.8 L302.5 269.2 L304.0 269.3 L305.5 269.0 L307.0 269.5 L308.5 269.9 L310.0 269.5 L311.5 269.3 L313.0 269.9 L314.5 269.9 L316.0 269.6 L317.5 269.0 L319.0 269.6 L320.5 269.3 L322.0 269.9 L323.5 269.2 L325.0 269.6 L326.5 269.5 L328.0 269.2 L329.5 269.4 L331.0 269.6 L332.5 269.8 L334.0 269.3 L335.5 269.2 L337.0 269.8 L338.5 268.8 L340.0 269.7 L341.5 269.5 L343.0 269.3 L344.5 269.2 L346.0 269.5 L347.5 269.7 L349.0 269.5 L350.5 269.5 L352.0 268.7 L353.5 268.9 L355.0 268.7 L356.5 269.6 L358.0 269.5 L359.5 268.6 L361.0 269.1 L362.5 269.0 L364.0 268.4 L365.5 268.8 L367.0 269.1 L368.5 268.9 L370.0 268.5 L371.5 268.9 L373.0 268.3 L374.5 268.5 L376.0 268.3 L377.5 268.8 L379.0 268.3 L380.5 268.4 L382.0 268.1 L383.5 267.6 L385.0 268.0 L386.5 267.5 L388.0 267.2 L389.5 266.4 L391.0 265.8 L392.5 265.6 L394.0 265.0 L395.5 263.6 L397.0 261.0 L398.5 257.6 L400.0 253.7 L401.5 248.6 L403.0 241.3 L404.5 234.9 L406.0 227.6 L407.5 222.1 L409.0 218.1 L410.5 217.1 L412.0 218.3 L413.5 223.3 L415.0 230.8 L416.5 239.3 L418.0 248.7 L419.5 257.2 L421.0 261.8 L422.5 265.3 L424.0 267.2 L425.5 267.6 L427.0 268.2 L428.5 268.5 L430.0 268.7 L431.5 269.4 L433.0 268.7 L434.5 268.7 L436.0 269.6 L437.5 269.1 L439.0 269.6 L440.5 269.4 L442.0 269.6 L443.5 269.1 L445.0 268.9 L446.5 269.6 L448.0 269.3 L449.5 269.4 L451.0 269.6 L452.5 269.7 L454.0 269.2 L455.5 269.3 L457.0 269.9 L458.5 269.5 L460.0 269.2 L461.5 269.6 L463.0 269.2 L464.5 269.8 L466.0 269.0 L467.5 269.8 L469.0 269.6 L470.5 269.3 L472.0 270.0 L473.5 269.2 L475.0 269.2 L476.5 269.0 L478.0 269.6 L479.5 269.8 L481.0 269.7 L482.5 269.4 L484.0 269.9 L485.5 269.1 L487.0 269.3 L488.5 269.7 L490.0 270.0 L491.5 269.7 L493.0 269.7 L494.5 269.8 L496.0 269.4 L497.5 270.0 L499.0 269.8 L500.5 269.4 L502.0 269.4 L503.5 269.9 L505.0 269.4 L506.5 269.2 L508.0 270.0 L509.5 269.6 L511.0 269.6 L512.5 269.7 L514.0 270.0 L515.5 269.1 L517.0 269.4 L518.5 269.1 L520.0 269.5 L521.5 269.6 L523.0 269.9 L524.5 269.7 L526.0 269.6 L527.5 269.4 L529.0 269.6 L530.5 269.3 L532.0 269.9 L533.5 269.9 L535.0 269.9 L536.5 269.2 L538.0 269.7 L539.5 269.8 L541.0 269.6 L542.5 270.0 L544.0 270.0 L545.5 269.8 L547.0 269.9 L548.5 269.7 L550.0 270.0 L551.5 269.1 L553.0 269.8 L554.5 269.8 L556.0 269.7 L557.5 269.3 L559.0 269.1 L560.5 269.7 L562.0 269.9 L563.5 269.3 L565.0 269.2 L566.5 269.2 L568.0 269.1 L569.5 269.7 L571.0 270.1 L572.5 269.9 L574.0 269.4 L575.5 269.8 L577.0 269.1 L578.5 269.9 L580.0 269.3 L581.5 269.0 L583.0 269.7 L584.5 269.1 L586.0 269.3 L587.5 269.0 L589.0 269.5 L590.5 269.6 L592.0 269.9 L593.5 269.0 L595.0 269.9 L596.5 269.1 L598.0 269.2 L599.5 269.7 L601.0 269.3 L602.5 269.3 L604.0 269.6 L605.5 269.2 L607.0 269.8 L608.5 269.2 L610.0 269.8 L611.5 269.8 L613.0 269.5 L614.5 268.9 L616.0 269.7 L617.5 268.9 L619.0 269.4 L620.5 269.3 L622.0 268.9 L623.5 269.5 L625.0 269.5 L626.5 269.3 L628.0 269.0 L629.5 269.1 L631.0 269.0 L632.5 268.4 L634.0 268.9 L635.5 268.8 L637.0 268.2 L638.5 268.0 L640.0 266.9 L641.5 267.1 L643.0 265.6 L644.5 265.6 L646.0 264.7 L647.5 264.6 L649.0 264.5 L650.5 264.3 L652.0 263.9 L653.5 263.9 L655.0 263.9 L656.5 264.5 L658.0 264.9 L659.5 265.3 L661.0 266.4 L662.5 266.6 L664.0 267.0 L665.5 267.2 L667.0 268.1 L668.5 267.9 L670.0 268.2 L671.5 268.8 L673.0 269.1 L674.5 269.6 L676.0 269.4 L677.5 269.7 L679.0 269.7 L680.5 269.6 L682.0 269.6 L683.5 268.9 L685.0 269.1 L686.5 268.9 L688.0 269.8 L689.5 269.7 L691.0 269.6 L692.5 269.2 L694.0 269.3 L695.5 269.1 L697.0 269.6 L698.5 270.0 L700.0 269.3 L701.5 269.0 L703.0 269.1 L704.5 269.3 L706.0 269.9 L707.5 269.8 L709.0 269.5 L710.5 269.1 L712.0 269.1 L713.5 269.1 L715.0 269.8 L716.5 269.5 L718.0 270.1 L719.5 270.0 L721.0 269.8 L722.5 269.5 L724.0 269.9 L725.5 269.1 L727.0 269.1 L728.5 269.6 L730.0 269.5 L731.5 269.2 L733.0 269.2 L734.5 269.0 L736.0 270.0 L737.5 269.8 L739.0 270.0 L740.5 270.1 L742.0 269.5 L743.5 269.8 L745.0 269.4 L746.5 269.9 L748.0 269.9 L749.5 269.1 L751.0 269.0 L752.5 269.2 L754.0 269.6 L755.5 269.4 L757.0 269.0 L758.5 269.9 L760.0 269.8 L761.5 269.5 L763.0 269.0 L764.5 269.9 L766.0 269.5 L767.5 269.0 L769.0 269.3 L770.5 269.6 L772.0 269.9 L773.5 269.5 L775.0 269.6 L776.5 269.2 L778.0 269.2 L779.5 269.9 L781.0 269.3 L782.5 269.0 L784.0 269.6 L785.5 269.1 L787.0 269.1 L788.5 269.4 L790.0 269.5 L791.5 269.6 L793.0 269.7 L794.5 269.4 L796.0 269.0 L797.5 269.7 L799.0 268.9 L800.5 269.4 L802.0 269.3 L803.5 269.6 L805.0 269.6 L806.5 269.1 L808.0 269.5 L809.5 269.5 L811.0 269.3 L812.5 268.9 L814.0 269.7 L815.5 269.3 L817.0 268.7 L818.5 268.8 L820.0 269.6 L821.5 268.7 L823.0 268.8 L824.5 269.1 L826.0 269.0 L827.5 268.6 L829.0 268.5 L830.5 267.5 L832.0 267.3 L833.5 267.9 L835.0 267.3 L836.5 266.0 L838.0 265.5 L839.5 265.2 L841.0 265.4 L842.5 264.0 L844.0 263.8 L845.5 263.4 L847.0 262.3 L848.5 261.9 L850.0 260.5 L851.5 259.6 L853.0 258.9 L854.5 259.1 L856.0 257.9 L857.5 258.5 L859.0 257.9 L860.5 257.3 L862.0 258.1 L863.5 258.3 L865.0 260.1 L866.5 261.4 L868.0 263.9 L869.5 265.6 L871.0 266.9 L872.5 266.9 L874.0 268.6 L875.5 268.7 L877.0 269.3 L878.5 269.1 L880.0 269.4 L881.5 269.4 L883.0 269.7 L884.5 268.9 L886.0 268.9 L887.5 269.5 L889.0 269.2 L890.5 269.3 L892.0 268.9 L893.5 269.8 L895.0 269.0 L896.5 269.9 L898.0 269.8 L899.5 269.5 L901.0 269.1 L902.5 269.7 L904.0 269.2 L905.5 269.5 L907.0 269.1 L908.5 270.1 L910.0 269.6 L911.5 269.4 L913.0 269.1 L914.5 269.8 L916.0 269.9 L917.5 269.9 L919.0 269.1 L920.5 269.4 L922.0 269.3 L923.5 269.8 L925.0 269.2 L926.5 269.7 L928.0 270.1 L929.5 269.9 L931.0 269.0 L932.5 269.1 L934.0 269.1 L935.5 269.8 L937.0 269.7 L938.5 269.6 L940.0 269.5 L941.5 269.5 L943.0 269.7 L944.5 269.7 L946.0 270.0 L947.5 269.8 L949.0 269.9 L950.5 270.0 L952.0 269.9 L953.5 269.8 L955.0 269.1 L956.5 269.8 L958.0 270.0 L959.5 269.5 L961.0 270.0 L962.5 269.2 L964.0 270.1 L965.5 269.5 L967.0 269.8 L968.5 269.3 L970.0 269.3 L971.5 269.4 L973.0 269.4 L974.5 269.1 L976.0 269.5 L977.5 270.1 L979.0 269.7 L980.5 270.0 L982.0 269.8 L983.5 269.9 L985.0 270.1 L986.5 269.8 L988.0 269.3 L989.5 269.3 L991.0 269.5 L992.5 269.0 L994.0 269.2 L995.5 270.0 L997.0 270.0 L998.5 269.3 L1000.0 269.8 L1001.5 269.8 L1003.0 269.9 L1004.5 269.8 L1006.0 269.5 L1007.5 269.1 L1009.0 269.8 L1010.5 269.3 L1012.0 269.6 L1013.5 269.3 L1015.0 269.4 L1016.5 269.8 L1018.0 268.9 L1019.5 269.2 L1021.0 269.3 L1022.5 269.1 L1024.0 269.4 L1025.5 268.7 L1027.0 269.1 L1028.5 268.7 L1030.0 268.9 L1031.5 267.8 L1033.0 267.8 L1034.5 267.7 L1036.0 268.2 L1037.5 267.2 L1039.0 267.4 L1040.5 267.8 L1042.0 268.1 L1043.5 267.3 L1045.0 267.7 L1046.5 268.0 L1048.0 268.2 L1049.5 268.4 L1051.0 268.6 L1052.5 268.2 L1054.0 268.3 L1055.5 268.2 L1057.0 269.1 L1058.5 268.7 L1060.0 268.8 L1061.5 269.7 L1063.0 269.4 L1064.5 269.4 L1066.0 269.5 L1067.5 269.5 L1069.0 269.6 L1070.5 269.2 L1072.0 269.0 L1073.5 269.0 L1075.0 269.0 L1076.5 269.4 L1078.0 269.1 L1079.5 269.1 L1081.0 269.5 L1082.5 270.0 L1084.0 269.7 L1085.5 269.3 L1087.0 269.8 L1088.5 269.2 L1090.0 269.1 L1091.5 269.3 L1093.0 269.4 L1094.5 269.8 L1096.0 269.5 L1097.5 269.8 L1099.0 269.1 L1100.5 270.0 L1102.0 269.4 L1103.5 269.9 L1105.0 269.0 L1106.5 269.9 L1108.0 269.3 L1109.5 269.9 L1111.0 269.9 L1112.5 269.7 L1114.0 269.3 L1115.5 269.0 L1117.0 269.2 L1118.5 270.0 L1120.0 269.2 L1121.5 269.7 L1123.0 269.7 L1124.5 269.7 L1126.0 269.2 L1127.5 269.2 L1129.0 269.1 L1130.5 270.1 L1132.0 269.4 L1133.5 269.7 L1135.0 269.6 L1136.5 269.2 L1138.0 269.1 L1139.5 269.0 L1141.0 269.9 L1142.5 269.1 L1144.0 270.1 L1145.5 269.4 L1147.0 269.8 L1148.5 269.1 L1150.0 269.9 L1151.5 269.3 L1153.0 269.4 L1154.5 269.6 L1156.0 269.1 L1157.5 269.2 L1159.0 269.8 L1160.5 269.3 L1162.0 269.4 L1163.5 269.8 L1165.0 269.2 L1166.5 269.2 L1168.0 269.2 L1169.5 269.3 L1171.0 269.3 L1172.5 269.6 L1174.0 269.4 L1175.5 269.8 L1177.0 268.9 L1178.5 269.5 L1180.0 269.7 L1181.5 269.0 L1183.0 268.7 L1184.5 269.1 L1186.0 268.7 L1187.5 269.1 L1189.0 269.3 L1190.5 268.5 L1192.0 268.5 L1193.5 268.8 L1195.0 268.4 L1196.5 268.3 L1198.0 268.5 L1199.5 268.0 L1201.0 267.9 L1202.5 268.1 L1204.0 268.1 L1205.5 268.5 L1207.0 268.0 L1208.5 267.4 L1210.0 267.5 L1211.5 268.0 L1213.0 267.7 L1214.5 268.0 L1216.0 268.1 L1217.5 268.0 L1219.0 267.2 L1220.5 268.1 L1222.0 267.7 L1223.5 267.5 L1225.0 267.5 L1226.5 268.3 L1228.0 267.7 L1229.5 267.6 L1231.0 267.9 L1232.5 268.8 L1234.0 268.4 L1235.5 268.8 L1237.0 268.1 L1238.5 268.6 L1240.0 268.6 L1241.5 268.5 L1243.0 269.1 L1244.5 268.9 L1246.0 268.7 L1247.5 269.7 L1249.0 269.2 L1250.5 268.9 L1252.0 268.7 L1253.5 269.5 L1255.0 269.4 L1256.5 268.9 L1258.0 269.4 L1259.5 269.7 L1261.0 269.5 L1262.5 269.2 L1264.0 269.5 L1265.5 269.6 L1267.0 269.7 L1268.5 269.1 L1270.0 269.8 L1271.5 270.0 L1273.0 269.8 L1274.5 269.9 L1276.0 269.4 L1277.5 270.0 L1279.0 269.2 L1280.5 269.2 L1282.0 269.7 L1283.5 270.0 L1285.0 269.1 L1286.5 269.2 L1288.0 269.0 L1289.5 269.5 L1291.0 269.2 L1292.5 269.2 L1294.0 269.8 L1295.5 269.7 L1297.0 270.0 L1298.5 269.5 L1300.0 269.8 L1301.5 269.0 L1303.0 270.1 L1304.5 269.3 L1306.0 269.5 L1307.5 269.6 L1309.0 270.1 L1310.5 269.6 L1312.0 270.1 L1313.5 269.7 L1315.0 269.3 L1316.5 269.9 L1318.0 269.2 L1319.5 270.1 L1321.0 269.5 L1322.5 269.3 L1324.0 270.1 L1325.5 269.4" fill="none" stroke="#ff00ff" stroke-width="9.9" stroke-linejoin="round" stroke-linecap="butt"/>
<path d="M146.5 209.6 L148.0 209.5 L149.5 209.9 L151.0 209.2 L152.5 209.6 L154.0 209.3 L155.5 210.1 L157.0 209.1 L158.5 209.8 L160.0 209.4 L161.5 209.6 L163.0 209.8 L164.5 209.9 L166.0 209.3 L167.5 209.4 L169.0 209.3 L170.5 210.2 L172.0 209.3 L173.5 209.3 L175.0 209.7 L176.5 209.8 L178.0 210.1 L179.5 209.2 L181.0 209.4 L182.5 209.3 L184.0 209.8 L185.5 209.6 L187.0 209.6 L188.5 210.1 L190.0 209.9 L191.5 210.1 L193.0 210.2 L194.5 209.4 L196.0 210.2 L197.5 209.6 L199.0 209.2 L200.5 210.1 L202.0 209.3 L203.5 209.2 L205.0 209.5 L206.5 209.5 L208.0 210.2 L209.5 210.1 L211.0 209.6 L212.5 209.7 L214.0 210.1 L215.5 210.0 L217.0 209.9 L218.5 209.7 L220.0 209.3 L221.5 209.4 L223.0 209.9 L224.5 209.8 L226.0 210.0 L227.5 210.1 L229.0 210.2 L230.5 209.3 L232.0 209.2 L233.5 210.1 L235.0 209.8 L236.5 209.3 L238.0 209.9 L239.5 209.4 L241.0 209.4 L242.5 209.5 L244.0 209.7 L245.5 209.9 L247.0 209.2 L248.5 209.9 L250.0 209.8 L251.5 209.6 L253.0 209.9 L254.5 210.0 L256.0 209.1 L257.5 209.7 L259.0 209.9 L260.5 209.9 L262.0 209.8 L263.5 209.3 L265.0 210.2 L266.5 210.0 L268.0 209.4 L269.5 209.6 L271.0 210.2 L272.5 209.4 L274.0 209.6 L275.5 210.2 L277.0 210.1 L278.5 209.4 L280.0 209.9 L281.5 209.5 L283.0 209.9 L284.5 210.0 L286.0 209.3 L287.5 209.4 L289.0 209.4 L290.5 209.4 L292.0 209.2 L293.5 209.3 L295.0 209.6 L296.5 209.6 L298.0 209.2 L299.5 209.8 L301.0 210.1 L302.5 209.7 L304.0 209.5 L305.5 209.9 L307.0 209.6 L308.5 209.3 L310.0 209.6 L311.5 209.1 L313.0 209.8 L314.5 209.3 L316.0 209.5 L317.5 210.2 L319.0 209.9 L320.5 210.0 L322.0 209.8 L323.5 209.8 L325.0 209.9 L326.5 210.2 L328.0 209.3 L329.5 209.9 L331.0 209.4 L332.5 209.4 L334.0 210.0 L335.5 209.7 L337.0 210.0 L338.5 210.0 L340.0 209.7 L341.5 209.3 L343.0 209.1 L344.5 209.6 L346.0 209.9 L347.5 209.3 L349.0 209.1 L350.5 209.0 L352.0 209.2 L353.5 209.8 L355.0 209.0 L356.5 209.3 L358.0 209.3 L359.5 209.8 L361.0 210.1 L362.5 209.0 L364.0 209.1 L365.5 210.0 L367.0 210.0 L368.5 209.1 L370.0 209.3 L371.5 209.5 L373.0 209.3 L374.5 209.3 L376.0 209.4 L377.5 209.1 L379.0 208.9 L380.5 208.9 L382.0 208.9 L383.5 208.8 L385.0 209.4 L386.5 209.4 L388.0 208.9 L389.5 209.4 L391.0 209.3 L392.5 208.8 L394.0 208.8 L395.5 208.4 L397.0 209.1 L398.5 208.5 L399.0 207.8 L399.5 207.9 L400.0 208.4 L400.5 208.0 L401.0 208.2 L401.5 207.6 L402.0 208.1 L402.5 208.0 L403.0 207.1 L403.5 207.5 L404.0 206.9 L404.5 207.2 L405.0 207.1 L405.5 206.9 L406.0 206.0 L406.5 205.6 L407.0 205.9 L407.5 205.4 L408.0 204.4 L408.5 203.9 L409.0 203.5 L409.5 202.1 L410.0 201.4 L410.5 199.2 L411.0 197.0 L411.5 194.2 L412.0 190.5 L412.5 185.8 L413.0 178.9 L413.5 172.3 L414.0 163.1 L414.5 153.4 L415.0 143.3 L415.5 132.5 L416.0 122.2 L416.5 114.0 L417.0 107.3 L417.5 105.4 L418.0 107.9 L418.5 113.2 L419.0 121.7 L419.5 132.0 L420.0 143.4 L420.5 154.0 L421.0 163.6 L421.5 172.5 L422.0 179.7 L422.5 185.3 L423.0 190.3 L423.5 194.6 L424.0 196.8 L424.5 199.6 L425.0 200.8 L425.5 202.0 L426.0 203.5 L426.5 203.8 L427.0 205.3 L427.5 205.7 L428.0 205.6 L428.5 205.7 L429.0 205.9 L429.5 206.6 L430.0 206.8 L430.5 206.9 L431.0 207.4 L431.5 207.4 L432.0 207.8 L432.5 207.2 L433.0 207.3 L433.5 207.8 L434.0 208.0 L434.5 207.8 L435.0 208.4 L435.5 208.0 L436.0 208.1 L436.5 208.4 L437.0 208.7 L438.5 208.9 L440.0 208.6 L441.5 208.8 L443.0 209.4 L444.5 209.5 L446.0 209.2 L447.5 208.7 L449.0 209.2 L450.5 209.4 L452.0 209.1 L453.5 208.8 L455.0 209.9 L456.5 209.8 L458.0 209.0 L459.5 209.4 L461.0 209.6 L462.5 209.2 L464.0 209.0 L465.5 209.8 L467.0 209.8 L468.5 209.4 L470.0 209.1 L471.5 209.4 L473.0 209.1 L474.5 210.1 L476.0 209.1 L477.5 209.3 L479.0 209.9 L480.5 209.2 L482.0 209.1 L483.5 209.1 L485.0 209.2 L486.5 209.6 L488.0 210.0 L489.5 209.2 L491.0 209.2 L492.5 209.9 L494.0 209.5 L495.5 209.4 L497.0 209.2 L498.5 209.3 L500.0 210.1 L501.5 209.2 L503.0 209.4 L504.5 209.9 L506.0 210.1 L507.5 210.1 L509.0 209.6 L510.5 210.1 L512.0 209.8 L513.5 209.4 L515.0 209.6 L516.5 209.9 L518.0 209.9 L519.5 209.2 L521.0 209.3 L522.5 210.2 L524.0 209.2 L525.5 210.0 L527.0 209.5 L528.5 209.4 L530.0 209.4 L531.5 209.6 L533.0 210.2 L534.5 209.3 L536.0 210.0 L537.5 209.5 L539.0 209.3 L540.5 209.9 L542.0 209.5 L543.5 209.3 L545.0 209.6 L546.5 210.0 L548.0 210.1 L549.5 209.7 L551.0 209.1 L552.5 209.9 L554.0 209.8 L555.5 210.1 L557.0 210.2 L558.5 209.5 L560.0 210.0 L561.5 210.0 L563.0 209.4 L564.5 209.5 L566.0 209.5 L567.5 209.5 L569.0 209.5 L570.5 209.2 L572.0 209.4 L573.5 210.1 L575.0 209.6 L576.5 209.8 L578.0 210.1 L579.5 209.9 L581.0 209.4 L582.5 210.1 L584.0 210.0 L585.5 210.2 L587.0 209.9 L588.5 209.9 L590.0 210.0 L591.5 209.4 L593.0 209.8 L594.5 209.5 L596.0 210.0 L597.5 209.3 L599.0 209.7 L600.5 209.5 L602.0 210.0 L603.5 209.5 L605.0 210.0 L606.5 210.0 L608.0 210.1 L609.5 209.2 L611.0 210.1 L612.5 209.9 L614.0 209.8 L615.5 209.8 L617.0 209.1 L618.5 210.0 L620.0 209.7 L621.5 209.6 L623.0 209.4 L624.5 209.9 L626.0 209.9 L627.5 210.0 L629.0 209.3 L630.5 209.4 L632.0 209.3 L633.5 209.1 L635.0 209.4 L636.5 209.0 L638.0 209.9 L639.5 209.2 L641.0 209.0 L642.5 209.0 L644.0 209.7 L645.5 209.1 L647.0 209.3 L648.5 209.2 L650.0 209.5 L651.5 209.5 L653.0 208.5 L654.5 208.4 L656.0 208.1 L657.5 206.7 L659.0 205.9 L660.5 204.3 L662.0 202.2 L663.5 201.3 L665.0 199.9 L666.5 199.0 L668.0 199.9 L669.5 201.3 L671.0 202.4 L672.5 204.0 L674.0 205.4 L675.5 207.1 L677.0 207.8 L678.5 208.0 L680.0 208.6 L681.5 208.9 L683.0 209.7 L684.5 209.5 L686.0 208.9 L687.5 209.9 L689.0 208.9 L690.5 209.6 L692.0 209.4 L693.5 209.8 L695.0 209.5 L696.5 209.1 L698.0 209.6 L699.5 209.9 L701.0 209.9 L702.5 209.4 L704.0 209.3 L705.5 209.9 L707.0 209.9 L708.5 209.3 L710.0 210.0 L711.5 210.2 L713.0 209.5 L714.5 209.5 L716.0 209.9 L717.5 210.1 L719.0 209.3 L720.5 209.4 L722.0 209.5 L723.5 209.9 L725.0 209.3 L726.5 209.7 L728.0 209.6 L729.5 209.8 L731.0 209.3 L732.5 210.2 L734.0 210.2 L735.5 209.7 L737.0 210.0 L738.5 209.3 L740.0 210.1 L741.5 209.7 L743.0 209.9 L744.5 210.1 L746.0 209.5 L747.5 210.1 L749.0 209.3 L750.5 209.1 L752.0 209.7 L753.5 210.1 L755.0 210.1 L756.5 210.2 L758.0 209.7 L759.5 210.1 L761.0 209.7 L762.5 209.3 L764.0 209.8 L765.5 210.0 L767.0 209.6 L768.5 209.8 L770.0 209.4 L771.5 209.4 L773.0 209.6 L774.5 209.7 L776.0 209.6 L777.5 209.2 L779.0 209.1 L780.5 209.5 L782.0 209.9 L783.5 209.9 L785.0 209.4 L786.5 209.4 L788.0 209.7 L789.5 209.3 L791.0 209.8 L792.5 210.1 L794.0 209.3 L795.5 209.7 L797.0 209.9 L798.5 209.9 L800.0 209.9 L801.5 209.9 L803.0 209.4 L804.5 210.0 L806.0 210.1 L807.5 209.1 L809.0 210.1 L810.5 209.6 L812.0 209.2 L813.5 209.1 L815.0 209.9 L816.5 209.8 L818.0 209.2 L819.5 209.6 L821.0 209.7 L822.5 210.1 L824.0 209.4 L825.5 209.9 L827.0 209.3 L828.5 209.2 L830.0 209.2 L831.5 209.5 L833.0 209.7 L834.5 209.3 L836.0 209.1 L837.5 209.2 L839.0 209.0 L840.5 209.1 L842.0 209.3 L843.5 209.4 L845.0 209.1 L846.5 209.4 L848.0 209.3 L849.5 209.9 L851.0 209.3 L852.5 209.7 L854.0 209.2 L855.5 208.8 L857.0 209.1 L858.5 208.3 L860.0 207.6 L861.5 205.9 L863.0 203.8 L864.5 200.2 L866.0 195.1 L867.5 190.6 L869.0 187.1 L870.5 184.5 L872.0 183.4 L873.5 182.3 L875.0 181.8 L876.5 182.6 L878.0 182.7 L879.5 184.2 L881.0 190.2 L882.5 197.5 L884.0 204.1 L885.5 208.3 L887.0 209.8 L888.5 209.4 L890.0 209.5 L891.5 209.4 L893.0 209.7 L894.5 209.8 L896.0 209.9 L897.5 210.1 L899.0 209.2 L900.5 209.5 L902.0 210.0 L903.5 210.0 L905.0 209.8 L906.5 209.9 L908.0 209.5 L909.5 210.2 L911.0 209.7 L912.5 209.6 L914.0 209.3 L915.5 209.2 L917.0 210.1 L918.5 210.0 L920.0 209.2 L921.5 209.5 L923.0 209.7 L924.5 209.7 L926.0 209.5 L927.5 210.1 L929.0 209.5 L930.5 209.7 L932.0 210.1 L933.5 209.8 L935.0 209.7 L936.5 209.5 L938.0 209.6 L939.5 209.8 L941.0 210.0 L942.5 209.4 L944.0 209.5 L945.5 209.6 L947.0 209.5 L948.5 210.1 L950.0 209.7 L951.5 209.4 L953.0 209.5 L954.5 210.0 L956.0 209.3 L957.5 209.9 L959.0 209.2 L960.5 209.3 L962.0 209.2 L963.5 210.0 L965.0 209.3 L966.5 209.4 L968.0 209.2 L969.5 209.4 L971.0 209.9 L972.5 209.9 L974.0 210.1 L975.5 210.2 L977.0 209.7 L978.5 210.1 L980.0 209.2 L981.5 210.1 L983.0 209.6 L984.5 209.3 L986.0 209.9 L987.5 210.1 L989.0 209.5 L990.5 209.2 L992.0 210.1 L993.5 209.9 L995.0 209.8 L996.5 210.2 L998.0 209.2 L999.5 209.2 L1001.0 209.2 L1002.5 209.1 L1004.0 209.9 L1005.5 209.8 L1007.0 209.2 L1008.5 209.3 L1010.0 209.3 L1011.5 209.8 L1013.0 209.8 L1014.5 210.2 L1016.0 209.5 L1017.5 210.2 L1019.0 209.6 L1020.5 209.5 L1022.0 209.4 L1023.5 209.3 L1025.0 210.1 L1026.5 210.1 L1028.0 209.8 L1029.5 209.2 L1031.0 209.2 L1032.5 209.1 L1034.0 209.3 L1035.5 209.7 L1037.0 208.9 L1038.5 209.3 L1040.0 209.4 L1041.5 208.6 L1043.0 208.9 L1044.5 209.1 L1046.0 208.7 L1047.5 208.3 L1049.0 208.6 L1050.5 208.0 L1052.0 207.5 L1053.5 207.4 L1055.0 207.8 L1056.5 207.6 L1058.0 207.6 L1059.5 207.3 L1061.0 206.9 L1062.5 207.1 L1064.0 207.6 L1065.5 208.1 L1067.0 207.6 L1068.5 208.7 L1070.0 208.9 L1071.5 208.8 L1073.0 208.4 L1074.5 209.4 L1076.0 209.1 L1077.5 209.5 L1079.0 209.5 L1080.5 209.7 L1082.0 209.4 L1083.5 210.0 L1085.0 210.1 L1086.5 210.0 L1088.0 209.7 L1089.5 209.4 L1091.0 209.5 L1092.5 209.4 L1094.0 210.1 L1095.5 209.9 L1097.0 209.9 L1098.5 210.0 L1100.0 210.2 L1101.5 209.8 L1103.0 209.4 L1104.5 209.9 L1106.0 209.4 L1107.5 209.8 L1109.0 209.3 L1110.5 210.0 L1112.0 209.6 L1113.5 209.4 L1115.0 210.1 L1116.5 209.2 L1118.0 210.1 L1119.5 209.9 L1121.0 209.3 L1122.5 209.9 L1124.0 209.7 L1125.5 210.1 L1127.0 209.8 L1128.5 209.6 L1130.0 210.1 L1131.5 209.2 L1133.0 210.0 L1134.5 209.2 L1136.0 209.4 L1137.5 209.2 L1139.0 210.1 L1140.5 209.6 L1142.0 209.9 L1143.5 209.4 L1145.0 209.9 L1146.5 209.8 L1148.0 209.2 L1149.5 209.6 L1151.0 209.9 L1152.5 209.3 L1154.0 209.8 L1155.5 209.4 L1157.0 209.5 L1158.5 210.1 L1160.0 210.1 L1161.5 210.2 L1163.0 209.6 L1164.5 209.7 L1166.0 210.0 L1167.5 209.9 L1169.0 209.6 L1170.5 210.0 L1172.0 209.5 L1173.5 210.1 L1175.0 209.6 L1176.5 209.2 L1178.0 209.9 L1179.5 209.2 L1181.0 209.8 L1182.5 209.1 L1184.0 210.1 L1185.5 209.6 L1187.0 209.9 L1188.5 209.2 L1190.0 209.7 L1191.5 209.4 L1193.0 209.3 L1194.5 209.9 L1196.0 209.0 L1197.5 209.5 L1199.0 209.1 L1200.5 209.9 L1202.0 210.0 L1203.5 209.0 L1205.0 209.4 L1206.5 209.4 L1208.0 209.7 L1209.5 209.7 L1211.0 209.2 L1212.5 209.8 L1214.0 208.9 L1215.5 208.8 L1217.0 209.4 L1218.5 208.5 L1220.0 208.4 L1221.5 208.5 L1223.0 208.1 L1224.5 207.5 L1226.0 208.0 L1227.5 207.0 L1229.0 206.9 L1230.5 205.7 L1232.0 205.9 L1233.5 204.5 L1235.0 204.7 L1236.5 203.8 L1238.0 203.8 L1239.5 203.2 L1241.0 202.9 L1242.5 202.7 L1244.0 203.2 L1245.5 203.1 L1247.0 203.1 L1248.5 204.5 L1250.0 205.0 L1251.5 205.4 L1253.0 206.1 L1254.5 206.1 L1256.0 206.9 L1257.5 207.7 L1259.0 208.3 L1260.5 208.6 L1262.0 208.1 L1263.5 208.9 L1265.0 208.9 L1266.5 208.9 L1268.0 208.8 L1269.5 208.8 L1271.0 209.3 L1272.5 209.4 L1274.0 209.1 L1275.5 209.3 L1277.0 209.5 L1278.5 209.8 L1280.0 209.6 L1281.5 209.1 L1283.0 210.0 L1284.5 209.4 L1286.0 210.1 L1287.5 210.1 L1289.0 209.2 L1290.5 209.7 L1292.0 210.1 L1293.5 209.5 L1295.0 209.6 L1296.5 209.4 L1298.0 209.1 L1299.5 209.3 L1301.0 209.2 L1302.5 209.4 L1304.0 209.8 L1305.5 209.7 L1307.0 210.1 L1308.5 209.8 L1310.0 209.5 L1311.5 210.1 L1313.0 209.8 L1314.5 209.7 L1316.0 210.0 L1317.5 209.8 L1319.0 209.5 L1320.5 209.8 L1322.0 209.4 L1323.5 210.2 L1325.0 209.4" fill="none" stroke="#808000" stroke-width="10.2" stroke-linejoin="round" stroke-linecap="butt"/>
</g></g>
<g shape-rendering="crispEdges">
<rect x="152" y="23" width="1168" height="3" fill="#c6c6c6"/>
<rect x="1320" y="23" width="3" height="3" fill="#ececec"/>
<rect x="152" y="26" width="1168" height="3" fill="#000"/>
<rect x="155" y="29" width="1162" height="3" fill="#a6a6a6"/>
<rect x="149" y="29" width="3" height="866" fill="#888"/>
<rect x="149" y="26" width="3" height="3" fill="#d8d8d8"/>
<rect x="152" y="26" width="3" height="869" fill="#1c1c1c"/>
<rect x="149" y="895" width="6" height="2" fill="#e0e0e0"/>
<rect x="1317" y="26" width="3" height="869" fill="#1c1c1c"/>
<rect x="1320" y="26" width="3" height="869" fill="#626262"/>
<rect x="1317" y="895" width="6" height="2" fill="#dcdcdc"/>
<rect x="152" y="873" width="1168" height="1" fill="#9a9a9a"/>
<rect x="152" y="874" width="1168" height="3" fill="#101010"/>
<rect x="152" y="877" width="1168" height="3" fill="#2a2a2a"/>
<rect x="293" y="880" width="3" height="6" fill="#f4f4f4"/>
<rect x="296" y="880" width="3" height="6" fill="#0a0a0a"/>
<rect x="296" y="886" width="3" height="2" fill="#d8d8d8"/>
<rect x="299" y="880" width="3" height="6" fill="#b8b8b8"/>
<rect x="440" y="880" width="3" height="15" fill="#808080"/>
<rect x="440" y="895" width="3" height="2" fill="#d8d8d8"/>
<rect x="443" y="880" width="3" height="15" fill="#262626"/>
<rect x="443" y="895" width="3" height="2" fill="#d8d8d8"/>
<rect x="446" y="880" width="3" height="15" fill="#ececec"/>
<rect x="584" y="880" width="3" height="6" fill="#f0f0f0"/>
<rect x="587" y="880" width="3" height="6" fill="#505050"/>
<rect x="587" y="886" width="3" height="2" fill="#d8d8d8"/>
<rect x="590" y="880" width="3" height="6" fill="#4a4a4a"/>
<rect x="590" y="886" width="3" height="2" fill="#d8d8d8"/>
<rect x="732" y="880" width="3" height="14" fill="#e2e2e2"/>
<rect x="735" y="880" width="3" height="14" fill="#000000"/>
<rect x="735" y="894" width="3" height="2" fill="#d8d8d8"/>
<rect x="738" y="880" width="3" height="14" fill="#e6e6e6"/>
<rect x="879" y="880" width="3" height="6" fill="#484848"/>
<rect x="879" y="886" width="3" height="2" fill="#d8d8d8"/>
<rect x="882" y="880" width="3" height="6" fill="#4c4c4c"/>
<rect x="882" y="886" width="3" height="2" fill="#d8d8d8"/>
<rect x="885" y="880" width="3" height="6" fill="#f0f0f0"/>
<rect x="1023" y="880" width="3" height="15" fill="#ececec"/>
<rect x="1026" y="880" width="3" height="15" fill="#3a3a3a"/>
<rect x="1026" y="895" width="3" height="2" fill="#d8d8d8"/>
<rect x="1029" y="880" width="3" height="15" fill="#7a7a7a"/>
<rect x="1029" y="895" width="3" height="2" fill="#d8d8d8"/>
<rect x="1170" y="880" width="3" height="6" fill="#a8a8a8"/>
<rect x="1173" y="880" width="3" height="6" fill="#080808"/>
<rect x="1173" y="886" width="3" height="2" fill="#d8d8d8"/>
</g>
<g filter="url(#softt)">
<text x="152.5" y="941.5" font-size="46.5" font-weight="bold" text-anchor="middle" fill="#000" stroke="#fff" stroke-width="0.6">20</text>
<text x="444.3" y="941.5" font-size="46.5" font-weight="bold" text-anchor="middle" fill="#000" stroke="#fff" stroke-width="0.6">40</text>
<text x="736.0" y="941.5" font-size="46.5" font-weight="bold" text-anchor="middle" fill="#000" stroke="#fff" stroke-width="0.6">60</text>
<text x="1027.8" y="941.5" font-size="46.5" font-weight="bold" text-anchor="middle" fill="#000" stroke="#fff" stroke-width="0.6">80</text>
<text x="1319.6" y="941.5" font-size="46.5" font-weight="bold" text-anchor="middle" fill="#000" stroke="#fff" stroke-width="0.6">100</text>
<text x="742.3" y="995" font-size="53.5" font-weight="bold" text-anchor="middle" fill="#000">2θ (degree)</text>
<text transform="translate(58.7 475.6) rotate(-90)" font-size="58" font-weight="bold" text-anchor="middle" fill="#000">Intensity (a.u.)</text>
<text x="417.6" y="85.5" font-size="50" text-anchor="middle" fill="#111" stroke="#fff" stroke-width="0.5">(110)</text>
<text x="665.7" y="160.2" font-size="50" text-anchor="middle" fill="#111" stroke="#fff" stroke-width="0.5">(200)</text>
<text x="875.0" y="147.5" font-size="50" text-anchor="middle" fill="#111" stroke="#fff" stroke-width="0.5">(211)</text>
<text x="1045.0" y="124.0" font-size="50" text-anchor="middle" fill="#111" stroke="#fff" stroke-width="0.5">(220)</text>
<text x="1240.7" y="125.5" font-size="50" text-anchor="middle" fill="#111" stroke="#fff" stroke-width="0.5">(310)</text>
<text x="960.3" y="181.0" font-size="49" fill="#111" stroke="#fff" stroke-width="0.5">HfMoNbTaTi</text>
<text x="959.3" y="326.0" font-size="49" fill="#111" stroke="#fff" stroke-width="0.5">HfMoNbTaZr</text>
<text x="960.3" y="418.8" font-size="49" fill="#111" stroke="#fff" stroke-width="0.5">HfMoNbTiZr</text>
<text x="963.3" y="576.0" font-size="49" fill="#111" stroke="#fff" stroke-width="0.5">HfMoTaTiZr</text>
<text x="964.8" y="730.8" font-size="49" fill="#111" stroke="#fff" stroke-width="0.5">HfNbTaTiZr</text>
<text x="936.0" y="815.7" font-size="49" fill="#111" stroke="#fff" stroke-width="0.5">HfMoNbTaTiZr</text>
</g>
</svg></body></html>
